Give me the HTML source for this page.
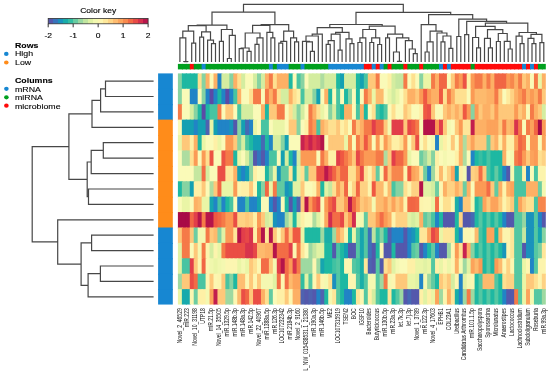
<!DOCTYPE html><html><head><meta charset="utf-8"><title>Heatmap</title><style>html,body{margin:0;padding:0;background:#fff;}body{width:550px;height:372px;overflow:hidden;}svg{display:block;}text{font-family:"Liberation Sans",Arial,sans-serif;}</style></head><body>
<svg width="550" height="372" viewBox="0 0 550 372">
<rect width="550" height="372" fill="#fff"/>
<g>
<rect x="177.90" y="73.40" width="4.96" height="16.41" fill="#86D3A2"/>
<rect x="181.86" y="73.40" width="4.96" height="16.41" fill="#1EB8A2"/>
<rect x="185.81" y="73.40" width="4.96" height="16.41" fill="#1EB8A2"/>
<rect x="189.77" y="73.40" width="4.96" height="16.41" fill="#1EB8A2"/>
<rect x="193.72" y="73.40" width="4.96" height="16.41" fill="#1EB8A2"/>
<rect x="197.68" y="73.40" width="4.96" height="16.41" fill="#FEE090"/>
<rect x="201.64" y="73.40" width="4.96" height="16.41" fill="#86D3A2"/>
<rect x="205.59" y="73.40" width="4.96" height="16.41" fill="#FDB065"/>
<rect x="209.55" y="73.40" width="4.96" height="16.41" fill="#FAFAB8"/>
<rect x="213.50" y="73.40" width="4.96" height="16.41" fill="#FDB065"/>
<rect x="217.46" y="73.40" width="4.96" height="16.41" fill="#2184C6"/>
<rect x="221.42" y="73.40" width="4.96" height="16.41" fill="#D4EDA0"/>
<rect x="225.37" y="73.40" width="4.96" height="16.41" fill="#D4EDA0"/>
<rect x="229.33" y="73.40" width="4.96" height="16.41" fill="#86D3A2"/>
<rect x="233.28" y="73.40" width="4.96" height="16.41" fill="#FDB065"/>
<rect x="237.24" y="73.40" width="4.96" height="16.41" fill="#FEE090"/>
<rect x="241.20" y="73.40" width="4.96" height="16.41" fill="#D4EDA0"/>
<rect x="245.15" y="73.40" width="4.96" height="16.41" fill="#FAFAB8"/>
<rect x="249.11" y="73.40" width="4.96" height="16.41" fill="#FAFAB8"/>
<rect x="253.06" y="73.40" width="4.96" height="16.41" fill="#D4EDA0"/>
<rect x="257.02" y="73.40" width="4.96" height="16.41" fill="#86D3A2"/>
<rect x="260.98" y="73.40" width="4.96" height="16.41" fill="#D4EDA0"/>
<rect x="264.93" y="73.40" width="4.96" height="16.41" fill="#FDB065"/>
<rect x="268.89" y="73.40" width="4.96" height="16.41" fill="#F57A48"/>
<rect x="272.84" y="73.40" width="4.96" height="16.41" fill="#FEE090"/>
<rect x="276.80" y="73.40" width="4.96" height="16.41" fill="#FDB065"/>
<rect x="280.76" y="73.40" width="4.96" height="16.41" fill="#FDB065"/>
<rect x="284.71" y="73.40" width="4.96" height="16.41" fill="#FDB065"/>
<rect x="288.67" y="73.40" width="4.96" height="16.41" fill="#1EB8A2"/>
<rect x="292.62" y="73.40" width="4.96" height="16.41" fill="#FAFAB8"/>
<rect x="296.58" y="73.40" width="4.96" height="16.41" fill="#48C4A2"/>
<rect x="300.54" y="73.40" width="4.96" height="16.41" fill="#86D3A2"/>
<rect x="304.49" y="73.40" width="4.96" height="16.41" fill="#FAFAB8"/>
<rect x="308.45" y="73.40" width="4.96" height="16.41" fill="#D4EDA0"/>
<rect x="312.40" y="73.40" width="4.96" height="16.41" fill="#D4EDA0"/>
<rect x="316.36" y="73.40" width="4.96" height="16.41" fill="#D4EDA0"/>
<rect x="320.32" y="73.40" width="4.96" height="16.41" fill="#AEDDA0"/>
<rect x="324.27" y="73.40" width="4.96" height="16.41" fill="#D4EDA0"/>
<rect x="328.23" y="73.40" width="4.96" height="16.41" fill="#D4EDA0"/>
<rect x="332.18" y="73.40" width="4.96" height="16.41" fill="#D4EDA0"/>
<rect x="336.14" y="73.40" width="4.96" height="16.41" fill="#1EB8A2"/>
<rect x="340.10" y="73.40" width="4.96" height="16.41" fill="#14A0B2"/>
<rect x="344.05" y="73.40" width="4.96" height="16.41" fill="#D4EDA0"/>
<rect x="348.01" y="73.40" width="4.96" height="16.41" fill="#D4EDA0"/>
<rect x="351.96" y="73.40" width="4.96" height="16.41" fill="#D4EDA0"/>
<rect x="355.92" y="73.40" width="4.96" height="16.41" fill="#1EB8A2"/>
<rect x="359.88" y="73.40" width="4.96" height="16.41" fill="#14A0B2"/>
<rect x="363.83" y="73.40" width="4.96" height="16.41" fill="#48C4A2"/>
<rect x="367.79" y="73.40" width="4.96" height="16.41" fill="#FEC87A"/>
<rect x="371.74" y="73.40" width="4.96" height="16.41" fill="#FEC87A"/>
<rect x="375.70" y="73.40" width="4.96" height="16.41" fill="#F57A48"/>
<rect x="379.66" y="73.40" width="4.96" height="16.41" fill="#FAFAB8"/>
<rect x="383.61" y="73.40" width="4.96" height="16.41" fill="#FAFAB8"/>
<rect x="387.57" y="73.40" width="4.96" height="16.41" fill="#FEF0A6"/>
<rect x="391.52" y="73.40" width="4.96" height="16.41" fill="#D4EDA0"/>
<rect x="395.48" y="73.40" width="4.96" height="16.41" fill="#C5E7A0"/>
<rect x="399.44" y="73.40" width="4.96" height="16.41" fill="#C5E7A0"/>
<rect x="403.39" y="73.40" width="4.96" height="16.41" fill="#F57A48"/>
<rect x="407.35" y="73.40" width="4.96" height="16.41" fill="#FAFAB8"/>
<rect x="411.30" y="73.40" width="4.96" height="16.41" fill="#FEE090"/>
<rect x="415.26" y="73.40" width="4.96" height="16.41" fill="#FAFAB8"/>
<rect x="419.22" y="73.40" width="4.96" height="16.41" fill="#86D3A2"/>
<rect x="423.17" y="73.40" width="4.96" height="16.41" fill="#EAF5A6"/>
<rect x="427.13" y="73.40" width="4.96" height="16.41" fill="#EAF5A6"/>
<rect x="431.08" y="73.40" width="4.96" height="16.41" fill="#F57A48"/>
<rect x="435.04" y="73.40" width="4.96" height="16.41" fill="#FDB065"/>
<rect x="439.00" y="73.40" width="4.96" height="16.41" fill="#F16644"/>
<rect x="442.95" y="73.40" width="4.96" height="16.41" fill="#F16644"/>
<rect x="446.91" y="73.40" width="4.96" height="16.41" fill="#FAFAB8"/>
<rect x="450.86" y="73.40" width="4.96" height="16.41" fill="#FEC87A"/>
<rect x="454.82" y="73.40" width="4.96" height="16.41" fill="#F57A48"/>
<rect x="458.78" y="73.40" width="4.96" height="16.41" fill="#FB9A55"/>
<rect x="462.73" y="73.40" width="4.96" height="16.41" fill="#EC5344"/>
<rect x="466.69" y="73.40" width="4.96" height="16.41" fill="#FEF0A6"/>
<rect x="470.64" y="73.40" width="4.96" height="16.41" fill="#FB9A55"/>
<rect x="474.60" y="73.40" width="4.96" height="16.41" fill="#F57A48"/>
<rect x="478.56" y="73.40" width="4.96" height="16.41" fill="#F57A48"/>
<rect x="482.51" y="73.40" width="4.96" height="16.41" fill="#FDB065"/>
<rect x="486.47" y="73.40" width="4.96" height="16.41" fill="#F57A48"/>
<rect x="490.42" y="73.40" width="4.96" height="16.41" fill="#FDB065"/>
<rect x="494.38" y="73.40" width="4.96" height="16.41" fill="#F16644"/>
<rect x="498.34" y="73.40" width="4.96" height="16.41" fill="#F16644"/>
<rect x="502.29" y="73.40" width="4.96" height="16.41" fill="#F16644"/>
<rect x="506.25" y="73.40" width="4.96" height="16.41" fill="#FB9A55"/>
<rect x="510.20" y="73.40" width="4.96" height="16.41" fill="#F7874D"/>
<rect x="514.16" y="73.40" width="4.96" height="16.41" fill="#FDB065"/>
<rect x="518.12" y="73.40" width="4.96" height="16.41" fill="#F57A48"/>
<rect x="522.07" y="73.40" width="4.96" height="16.41" fill="#FEC87A"/>
<rect x="526.03" y="73.40" width="4.96" height="16.41" fill="#FDB065"/>
<rect x="529.98" y="73.40" width="4.96" height="16.41" fill="#FAFAB8"/>
<rect x="533.94" y="73.40" width="4.96" height="16.41" fill="#F57A48"/>
<rect x="537.90" y="73.40" width="4.96" height="16.41" fill="#EAF5A6"/>
<rect x="541.85" y="73.40" width="3.96" height="16.41" fill="#FDB065"/>
<rect x="177.90" y="88.81" width="4.96" height="16.41" fill="#86D3A2"/>
<rect x="181.86" y="88.81" width="4.96" height="16.41" fill="#FAFAB8"/>
<rect x="185.81" y="88.81" width="4.96" height="16.41" fill="#FAFAB8"/>
<rect x="189.77" y="88.81" width="4.96" height="16.41" fill="#2184C6"/>
<rect x="193.72" y="88.81" width="4.96" height="16.41" fill="#2184C6"/>
<rect x="197.68" y="88.81" width="4.96" height="16.41" fill="#FAFAB8"/>
<rect x="201.64" y="88.81" width="4.96" height="16.41" fill="#86D3A2"/>
<rect x="205.59" y="88.81" width="4.96" height="16.41" fill="#2184C6"/>
<rect x="209.55" y="88.81" width="4.96" height="16.41" fill="#5B4AA6"/>
<rect x="213.50" y="88.81" width="4.96" height="16.41" fill="#2184C6"/>
<rect x="217.46" y="88.81" width="4.96" height="16.41" fill="#1EB8A2"/>
<rect x="221.42" y="88.81" width="4.96" height="16.41" fill="#2184C6"/>
<rect x="225.37" y="88.81" width="4.96" height="16.41" fill="#5B4AA6"/>
<rect x="229.33" y="88.81" width="4.96" height="16.41" fill="#2184C6"/>
<rect x="233.28" y="88.81" width="4.96" height="16.41" fill="#48C4A2"/>
<rect x="237.24" y="88.81" width="4.96" height="16.41" fill="#FDB065"/>
<rect x="241.20" y="88.81" width="4.96" height="16.41" fill="#FAFAB8"/>
<rect x="245.15" y="88.81" width="4.96" height="16.41" fill="#FAFAB8"/>
<rect x="249.11" y="88.81" width="4.96" height="16.41" fill="#FEE090"/>
<rect x="253.06" y="88.81" width="4.96" height="16.41" fill="#F57A48"/>
<rect x="257.02" y="88.81" width="4.96" height="16.41" fill="#F57A48"/>
<rect x="260.98" y="88.81" width="4.96" height="16.41" fill="#FAFAB8"/>
<rect x="264.93" y="88.81" width="4.96" height="16.41" fill="#F57A48"/>
<rect x="268.89" y="88.81" width="4.96" height="16.41" fill="#FDB065"/>
<rect x="272.84" y="88.81" width="4.96" height="16.41" fill="#F57A48"/>
<rect x="276.80" y="88.81" width="4.96" height="16.41" fill="#FEE090"/>
<rect x="280.76" y="88.81" width="4.96" height="16.41" fill="#D4EDA0"/>
<rect x="284.71" y="88.81" width="4.96" height="16.41" fill="#D4EDA0"/>
<rect x="288.67" y="88.81" width="4.96" height="16.41" fill="#FDB065"/>
<rect x="292.62" y="88.81" width="4.96" height="16.41" fill="#FEE090"/>
<rect x="296.58" y="88.81" width="4.96" height="16.41" fill="#FEF0A6"/>
<rect x="300.54" y="88.81" width="4.96" height="16.41" fill="#48C4A2"/>
<rect x="304.49" y="88.81" width="4.96" height="16.41" fill="#D4EDA0"/>
<rect x="308.45" y="88.81" width="4.96" height="16.41" fill="#D4EDA0"/>
<rect x="312.40" y="88.81" width="4.96" height="16.41" fill="#86D3A2"/>
<rect x="316.36" y="88.81" width="4.96" height="16.41" fill="#14A0B2"/>
<rect x="320.32" y="88.81" width="4.96" height="16.41" fill="#FAFAB8"/>
<rect x="324.27" y="88.81" width="4.96" height="16.41" fill="#FDB065"/>
<rect x="328.23" y="88.81" width="4.96" height="16.41" fill="#1EB8A2"/>
<rect x="332.18" y="88.81" width="4.96" height="16.41" fill="#FAFAB8"/>
<rect x="336.14" y="88.81" width="4.96" height="16.41" fill="#48C4A2"/>
<rect x="340.10" y="88.81" width="4.96" height="16.41" fill="#FAFAB8"/>
<rect x="344.05" y="88.81" width="4.96" height="16.41" fill="#1EB8A2"/>
<rect x="348.01" y="88.81" width="4.96" height="16.41" fill="#86D3A2"/>
<rect x="351.96" y="88.81" width="4.96" height="16.41" fill="#FAFAB8"/>
<rect x="355.92" y="88.81" width="4.96" height="16.41" fill="#1EB8A2"/>
<rect x="359.88" y="88.81" width="4.96" height="16.41" fill="#FAFAB8"/>
<rect x="363.83" y="88.81" width="4.96" height="16.41" fill="#F57A48"/>
<rect x="367.79" y="88.81" width="4.96" height="16.41" fill="#FDB065"/>
<rect x="371.74" y="88.81" width="4.96" height="16.41" fill="#EAF5A6"/>
<rect x="375.70" y="88.81" width="4.96" height="16.41" fill="#FDBA6D"/>
<rect x="379.66" y="88.81" width="4.96" height="16.41" fill="#FDBA6D"/>
<rect x="383.61" y="88.81" width="4.96" height="16.41" fill="#FAFAB8"/>
<rect x="387.57" y="88.81" width="4.96" height="16.41" fill="#EAF5A6"/>
<rect x="391.52" y="88.81" width="4.96" height="16.41" fill="#D4EDA0"/>
<rect x="395.48" y="88.81" width="4.96" height="16.41" fill="#EAF5A6"/>
<rect x="399.44" y="88.81" width="4.96" height="16.41" fill="#FAFAB8"/>
<rect x="403.39" y="88.81" width="4.96" height="16.41" fill="#FEE090"/>
<rect x="407.35" y="88.81" width="4.96" height="16.41" fill="#FDB065"/>
<rect x="411.30" y="88.81" width="4.96" height="16.41" fill="#FDB065"/>
<rect x="415.26" y="88.81" width="4.96" height="16.41" fill="#FEC87A"/>
<rect x="419.22" y="88.81" width="4.96" height="16.41" fill="#FB9A55"/>
<rect x="423.17" y="88.81" width="4.96" height="16.41" fill="#EF5842"/>
<rect x="427.13" y="88.81" width="4.96" height="16.41" fill="#FB9A55"/>
<rect x="431.08" y="88.81" width="4.96" height="16.41" fill="#FDB065"/>
<rect x="435.04" y="88.81" width="4.96" height="16.41" fill="#FDB065"/>
<rect x="439.00" y="88.81" width="4.96" height="16.41" fill="#EF5842"/>
<rect x="442.95" y="88.81" width="4.96" height="16.41" fill="#FEE090"/>
<rect x="446.91" y="88.81" width="4.96" height="16.41" fill="#F57A48"/>
<rect x="450.86" y="88.81" width="4.96" height="16.41" fill="#FDB065"/>
<rect x="454.82" y="88.81" width="4.96" height="16.41" fill="#FEE090"/>
<rect x="458.78" y="88.81" width="4.96" height="16.41" fill="#FEE090"/>
<rect x="462.73" y="88.81" width="4.96" height="16.41" fill="#FEE090"/>
<rect x="466.69" y="88.81" width="4.96" height="16.41" fill="#FAFAB8"/>
<rect x="470.64" y="88.81" width="4.96" height="16.41" fill="#FB9A55"/>
<rect x="474.60" y="88.81" width="4.96" height="16.41" fill="#FDBA6D"/>
<rect x="478.56" y="88.81" width="4.96" height="16.41" fill="#FDBA6D"/>
<rect x="482.51" y="88.81" width="4.96" height="16.41" fill="#FDBA6D"/>
<rect x="486.47" y="88.81" width="4.96" height="16.41" fill="#FDB065"/>
<rect x="490.42" y="88.81" width="4.96" height="16.41" fill="#FDB065"/>
<rect x="494.38" y="88.81" width="4.96" height="16.41" fill="#F57A48"/>
<rect x="498.34" y="88.81" width="4.96" height="16.41" fill="#FEC87A"/>
<rect x="502.29" y="88.81" width="4.96" height="16.41" fill="#FAFAB8"/>
<rect x="506.25" y="88.81" width="4.96" height="16.41" fill="#FEEA9D"/>
<rect x="510.20" y="88.81" width="4.96" height="16.41" fill="#FED283"/>
<rect x="514.16" y="88.81" width="4.96" height="16.41" fill="#FDB065"/>
<rect x="518.12" y="88.81" width="4.96" height="16.41" fill="#FB9A55"/>
<rect x="522.07" y="88.81" width="4.96" height="16.41" fill="#F57A48"/>
<rect x="526.03" y="88.81" width="4.96" height="16.41" fill="#FDB065"/>
<rect x="529.98" y="88.81" width="4.96" height="16.41" fill="#FB9A55"/>
<rect x="533.94" y="88.81" width="4.96" height="16.41" fill="#FDB065"/>
<rect x="537.90" y="88.81" width="4.96" height="16.41" fill="#F57A48"/>
<rect x="541.85" y="88.81" width="3.96" height="16.41" fill="#FEC87A"/>
<rect x="177.90" y="104.22" width="4.96" height="16.41" fill="#F57A48"/>
<rect x="181.86" y="104.22" width="4.96" height="16.41" fill="#FAFAB8"/>
<rect x="185.81" y="104.22" width="4.96" height="16.41" fill="#FAFAB8"/>
<rect x="189.77" y="104.22" width="4.96" height="16.41" fill="#D4EDA0"/>
<rect x="193.72" y="104.22" width="4.96" height="16.41" fill="#86D3A2"/>
<rect x="197.68" y="104.22" width="4.96" height="16.41" fill="#1EB8A2"/>
<rect x="201.64" y="104.22" width="4.96" height="16.41" fill="#5B4AA6"/>
<rect x="205.59" y="104.22" width="4.96" height="16.41" fill="#1EB8A2"/>
<rect x="209.55" y="104.22" width="4.96" height="16.41" fill="#48C4A2"/>
<rect x="213.50" y="104.22" width="4.96" height="16.41" fill="#48C4A2"/>
<rect x="217.46" y="104.22" width="4.96" height="16.41" fill="#F57A48"/>
<rect x="221.42" y="104.22" width="4.96" height="16.41" fill="#FAFAB8"/>
<rect x="225.37" y="104.22" width="4.96" height="16.41" fill="#FEC87A"/>
<rect x="229.33" y="104.22" width="4.96" height="16.41" fill="#FEC87A"/>
<rect x="233.28" y="104.22" width="4.96" height="16.41" fill="#FAFAB8"/>
<rect x="237.24" y="104.22" width="4.96" height="16.41" fill="#48C4A2"/>
<rect x="241.20" y="104.22" width="4.96" height="16.41" fill="#D4EDA0"/>
<rect x="245.15" y="104.22" width="4.96" height="16.41" fill="#D4EDA0"/>
<rect x="249.11" y="104.22" width="4.96" height="16.41" fill="#D4EDA0"/>
<rect x="253.06" y="104.22" width="4.96" height="16.41" fill="#FAFAB8"/>
<rect x="257.02" y="104.22" width="4.96" height="16.41" fill="#FAFAB8"/>
<rect x="260.98" y="104.22" width="4.96" height="16.41" fill="#FDB065"/>
<rect x="264.93" y="104.22" width="4.96" height="16.41" fill="#1EB8A2"/>
<rect x="268.89" y="104.22" width="4.96" height="16.41" fill="#FEC87A"/>
<rect x="272.84" y="104.22" width="4.96" height="16.41" fill="#FEC87A"/>
<rect x="276.80" y="104.22" width="4.96" height="16.41" fill="#F57A48"/>
<rect x="280.76" y="104.22" width="4.96" height="16.41" fill="#F57A48"/>
<rect x="284.71" y="104.22" width="4.96" height="16.41" fill="#FAFAB8"/>
<rect x="288.67" y="104.22" width="4.96" height="16.41" fill="#FEE090"/>
<rect x="292.62" y="104.22" width="4.96" height="16.41" fill="#D4EDA0"/>
<rect x="296.58" y="104.22" width="4.96" height="16.41" fill="#86D3A2"/>
<rect x="300.54" y="104.22" width="4.96" height="16.41" fill="#D4EDA0"/>
<rect x="304.49" y="104.22" width="4.96" height="16.41" fill="#FAFAB8"/>
<rect x="308.45" y="104.22" width="4.96" height="16.41" fill="#F57A48"/>
<rect x="312.40" y="104.22" width="4.96" height="16.41" fill="#FDB065"/>
<rect x="316.36" y="104.22" width="4.96" height="16.41" fill="#FEE090"/>
<rect x="320.32" y="104.22" width="4.96" height="16.41" fill="#EAF5A6"/>
<rect x="324.27" y="104.22" width="4.96" height="16.41" fill="#FAFAB8"/>
<rect x="328.23" y="104.22" width="4.96" height="16.41" fill="#86D3A2"/>
<rect x="332.18" y="104.22" width="4.96" height="16.41" fill="#D4EDA0"/>
<rect x="336.14" y="104.22" width="4.96" height="16.41" fill="#48C4A2"/>
<rect x="340.10" y="104.22" width="4.96" height="16.41" fill="#1EB8A2"/>
<rect x="344.05" y="104.22" width="4.96" height="16.41" fill="#FDB065"/>
<rect x="348.01" y="104.22" width="4.96" height="16.41" fill="#FDB065"/>
<rect x="351.96" y="104.22" width="4.96" height="16.41" fill="#FAFAB8"/>
<rect x="355.92" y="104.22" width="4.96" height="16.41" fill="#48C4A2"/>
<rect x="359.88" y="104.22" width="4.96" height="16.41" fill="#FDB065"/>
<rect x="363.83" y="104.22" width="4.96" height="16.41" fill="#1EB8A2"/>
<rect x="367.79" y="104.22" width="4.96" height="16.41" fill="#FAFAB8"/>
<rect x="371.74" y="104.22" width="4.96" height="16.41" fill="#FEE090"/>
<rect x="375.70" y="104.22" width="4.96" height="16.41" fill="#40C2A2"/>
<rect x="379.66" y="104.22" width="4.96" height="16.41" fill="#1EB8A2"/>
<rect x="383.61" y="104.22" width="4.96" height="16.41" fill="#54C7A2"/>
<rect x="387.57" y="104.22" width="4.96" height="16.41" fill="#FAFAB8"/>
<rect x="391.52" y="104.22" width="4.96" height="16.41" fill="#FEE090"/>
<rect x="395.48" y="104.22" width="4.96" height="16.41" fill="#FAFAB8"/>
<rect x="399.44" y="104.22" width="4.96" height="16.41" fill="#FAFAB8"/>
<rect x="403.39" y="104.22" width="4.96" height="16.41" fill="#FEC87A"/>
<rect x="407.35" y="104.22" width="4.96" height="16.41" fill="#FEE090"/>
<rect x="411.30" y="104.22" width="4.96" height="16.41" fill="#FAFAB8"/>
<rect x="415.26" y="104.22" width="4.96" height="16.41" fill="#FAFAB8"/>
<rect x="419.22" y="104.22" width="4.96" height="16.41" fill="#FEF0A6"/>
<rect x="423.17" y="104.22" width="4.96" height="16.41" fill="#EF5842"/>
<rect x="427.13" y="104.22" width="4.96" height="16.41" fill="#EA4E45"/>
<rect x="431.08" y="104.22" width="4.96" height="16.41" fill="#FEC87A"/>
<rect x="435.04" y="104.22" width="4.96" height="16.41" fill="#FAFAB8"/>
<rect x="439.00" y="104.22" width="4.96" height="16.41" fill="#FAFAB8"/>
<rect x="442.95" y="104.22" width="4.96" height="16.41" fill="#FEC87A"/>
<rect x="446.91" y="104.22" width="4.96" height="16.41" fill="#FDB065"/>
<rect x="450.86" y="104.22" width="4.96" height="16.41" fill="#FEC87A"/>
<rect x="454.82" y="104.22" width="4.96" height="16.41" fill="#FDB065"/>
<rect x="458.78" y="104.22" width="4.96" height="16.41" fill="#FEC87A"/>
<rect x="462.73" y="104.22" width="4.96" height="16.41" fill="#EF5842"/>
<rect x="466.69" y="104.22" width="4.96" height="16.41" fill="#FB9A55"/>
<rect x="470.64" y="104.22" width="4.96" height="16.41" fill="#86D3A2"/>
<rect x="474.60" y="104.22" width="4.96" height="16.41" fill="#FB9A55"/>
<rect x="478.56" y="104.22" width="4.96" height="16.41" fill="#FEC87A"/>
<rect x="482.51" y="104.22" width="4.96" height="16.41" fill="#FDB065"/>
<rect x="486.47" y="104.22" width="4.96" height="16.41" fill="#FDB065"/>
<rect x="490.42" y="104.22" width="4.96" height="16.41" fill="#FEC87A"/>
<rect x="494.38" y="104.22" width="4.96" height="16.41" fill="#FB9A55"/>
<rect x="498.34" y="104.22" width="4.96" height="16.41" fill="#FEC87A"/>
<rect x="502.29" y="104.22" width="4.96" height="16.41" fill="#FEC87A"/>
<rect x="506.25" y="104.22" width="4.96" height="16.41" fill="#FEC87A"/>
<rect x="510.20" y="104.22" width="4.96" height="16.41" fill="#FEC87A"/>
<rect x="514.16" y="104.22" width="4.96" height="16.41" fill="#FB9A55"/>
<rect x="518.12" y="104.22" width="4.96" height="16.41" fill="#FEC87A"/>
<rect x="522.07" y="104.22" width="4.96" height="16.41" fill="#FDB065"/>
<rect x="526.03" y="104.22" width="4.96" height="16.41" fill="#FAFAB8"/>
<rect x="529.98" y="104.22" width="4.96" height="16.41" fill="#F57A48"/>
<rect x="533.94" y="104.22" width="4.96" height="16.41" fill="#FDB065"/>
<rect x="537.90" y="104.22" width="4.96" height="16.41" fill="#FEC87A"/>
<rect x="541.85" y="104.22" width="3.96" height="16.41" fill="#D4EDA0"/>
<rect x="177.90" y="119.63" width="4.96" height="16.41" fill="#FAFAB8"/>
<rect x="181.86" y="119.63" width="4.96" height="16.41" fill="#14A0B2"/>
<rect x="185.81" y="119.63" width="4.96" height="16.41" fill="#14A0B2"/>
<rect x="189.77" y="119.63" width="4.96" height="16.41" fill="#14A0B2"/>
<rect x="193.72" y="119.63" width="4.96" height="16.41" fill="#2184C6"/>
<rect x="197.68" y="119.63" width="4.96" height="16.41" fill="#14A0B2"/>
<rect x="201.64" y="119.63" width="4.96" height="16.41" fill="#14A0B2"/>
<rect x="205.59" y="119.63" width="4.96" height="16.41" fill="#4F62B0"/>
<rect x="209.55" y="119.63" width="4.96" height="16.41" fill="#EAF5A6"/>
<rect x="213.50" y="119.63" width="4.96" height="16.41" fill="#14A0B2"/>
<rect x="217.46" y="119.63" width="4.96" height="16.41" fill="#2184C6"/>
<rect x="221.42" y="119.63" width="4.96" height="16.41" fill="#2184C6"/>
<rect x="225.37" y="119.63" width="4.96" height="16.41" fill="#2184C6"/>
<rect x="229.33" y="119.63" width="4.96" height="16.41" fill="#1995BA"/>
<rect x="233.28" y="119.63" width="4.96" height="16.41" fill="#5458AC"/>
<rect x="237.24" y="119.63" width="4.96" height="16.41" fill="#86D3A2"/>
<rect x="241.20" y="119.63" width="4.96" height="16.41" fill="#14A0B2"/>
<rect x="245.15" y="119.63" width="4.96" height="16.41" fill="#4669B4"/>
<rect x="249.11" y="119.63" width="4.96" height="16.41" fill="#2184C6"/>
<rect x="253.06" y="119.63" width="4.96" height="16.41" fill="#EAF5A6"/>
<rect x="257.02" y="119.63" width="4.96" height="16.41" fill="#FAFAB8"/>
<rect x="260.98" y="119.63" width="4.96" height="16.41" fill="#48C4A2"/>
<rect x="264.93" y="119.63" width="4.96" height="16.41" fill="#48C4A2"/>
<rect x="268.89" y="119.63" width="4.96" height="16.41" fill="#FAFAB8"/>
<rect x="272.84" y="119.63" width="4.96" height="16.41" fill="#EAF5A6"/>
<rect x="276.80" y="119.63" width="4.96" height="16.41" fill="#EAF5A6"/>
<rect x="280.76" y="119.63" width="4.96" height="16.41" fill="#EAF5A6"/>
<rect x="284.71" y="119.63" width="4.96" height="16.41" fill="#FAFAB8"/>
<rect x="288.67" y="119.63" width="4.96" height="16.41" fill="#FEC87A"/>
<rect x="292.62" y="119.63" width="4.96" height="16.41" fill="#FEC87A"/>
<rect x="296.58" y="119.63" width="4.96" height="16.41" fill="#86D3A2"/>
<rect x="300.54" y="119.63" width="4.96" height="16.41" fill="#FAFAB8"/>
<rect x="304.49" y="119.63" width="4.96" height="16.41" fill="#FEF0A6"/>
<rect x="308.45" y="119.63" width="4.96" height="16.41" fill="#F57A48"/>
<rect x="312.40" y="119.63" width="4.96" height="16.41" fill="#FB9A55"/>
<rect x="316.36" y="119.63" width="4.96" height="16.41" fill="#48C4A2"/>
<rect x="320.32" y="119.63" width="4.96" height="16.41" fill="#FDB065"/>
<rect x="324.27" y="119.63" width="4.96" height="16.41" fill="#FEC87A"/>
<rect x="328.23" y="119.63" width="4.96" height="16.41" fill="#FEE090"/>
<rect x="332.18" y="119.63" width="4.96" height="16.41" fill="#FEE090"/>
<rect x="336.14" y="119.63" width="4.96" height="16.41" fill="#FEC87A"/>
<rect x="340.10" y="119.63" width="4.96" height="16.41" fill="#FEF0A6"/>
<rect x="344.05" y="119.63" width="4.96" height="16.41" fill="#FEE090"/>
<rect x="348.01" y="119.63" width="4.96" height="16.41" fill="#FAFAB8"/>
<rect x="351.96" y="119.63" width="4.96" height="16.41" fill="#F57A48"/>
<rect x="355.92" y="119.63" width="4.96" height="16.41" fill="#FEC87A"/>
<rect x="359.88" y="119.63" width="4.96" height="16.41" fill="#FDB065"/>
<rect x="363.83" y="119.63" width="4.96" height="16.41" fill="#F57A48"/>
<rect x="367.79" y="119.63" width="4.96" height="16.41" fill="#F57A48"/>
<rect x="371.74" y="119.63" width="4.96" height="16.41" fill="#E23E4A"/>
<rect x="375.70" y="119.63" width="4.96" height="16.41" fill="#F16644"/>
<rect x="379.66" y="119.63" width="4.96" height="16.41" fill="#F16644"/>
<rect x="383.61" y="119.63" width="4.96" height="16.41" fill="#FEC87A"/>
<rect x="387.57" y="119.63" width="4.96" height="16.41" fill="#F4F8B1"/>
<rect x="391.52" y="119.63" width="4.96" height="16.41" fill="#E23E4A"/>
<rect x="395.48" y="119.63" width="4.96" height="16.41" fill="#E23E4A"/>
<rect x="399.44" y="119.63" width="4.96" height="16.41" fill="#E23E4A"/>
<rect x="403.39" y="119.63" width="4.96" height="16.41" fill="#FEC87A"/>
<rect x="407.35" y="119.63" width="4.96" height="16.41" fill="#E74847"/>
<rect x="411.30" y="119.63" width="4.96" height="16.41" fill="#EF5842"/>
<rect x="415.26" y="119.63" width="4.96" height="16.41" fill="#F57A48"/>
<rect x="419.22" y="119.63" width="4.96" height="16.41" fill="#FAFAB8"/>
<rect x="423.17" y="119.63" width="4.96" height="16.41" fill="#B5144A"/>
<rect x="427.13" y="119.63" width="4.96" height="16.41" fill="#B5144A"/>
<rect x="431.08" y="119.63" width="4.96" height="16.41" fill="#B5144A"/>
<rect x="435.04" y="119.63" width="4.96" height="16.41" fill="#FB9A55"/>
<rect x="439.00" y="119.63" width="4.96" height="16.41" fill="#E23E4A"/>
<rect x="442.95" y="119.63" width="4.96" height="16.41" fill="#FEC87A"/>
<rect x="446.91" y="119.63" width="4.96" height="16.41" fill="#F4F8B1"/>
<rect x="450.86" y="119.63" width="4.96" height="16.41" fill="#FAFAB8"/>
<rect x="454.82" y="119.63" width="4.96" height="16.41" fill="#FEC87A"/>
<rect x="458.78" y="119.63" width="4.96" height="16.41" fill="#FB9A55"/>
<rect x="462.73" y="119.63" width="4.96" height="16.41" fill="#FEE699"/>
<rect x="466.69" y="119.63" width="4.96" height="16.41" fill="#FEE699"/>
<rect x="470.64" y="119.63" width="4.96" height="16.41" fill="#C21D4E"/>
<rect x="474.60" y="119.63" width="4.96" height="16.41" fill="#FDB065"/>
<rect x="478.56" y="119.63" width="4.96" height="16.41" fill="#FDB065"/>
<rect x="482.51" y="119.63" width="4.96" height="16.41" fill="#FDB065"/>
<rect x="486.47" y="119.63" width="4.96" height="16.41" fill="#FCA35B"/>
<rect x="490.42" y="119.63" width="4.96" height="16.41" fill="#FCA35B"/>
<rect x="494.38" y="119.63" width="4.96" height="16.41" fill="#FCA35B"/>
<rect x="498.34" y="119.63" width="4.96" height="16.41" fill="#FEC87A"/>
<rect x="502.29" y="119.63" width="4.96" height="16.41" fill="#F57A48"/>
<rect x="506.25" y="119.63" width="4.96" height="16.41" fill="#FDBA6D"/>
<rect x="510.20" y="119.63" width="4.96" height="16.41" fill="#FDB065"/>
<rect x="514.16" y="119.63" width="4.96" height="16.41" fill="#D8334C"/>
<rect x="518.12" y="119.63" width="4.96" height="16.41" fill="#F57A48"/>
<rect x="522.07" y="119.63" width="4.96" height="16.41" fill="#FAFAB8"/>
<rect x="526.03" y="119.63" width="4.96" height="16.41" fill="#F57A48"/>
<rect x="529.98" y="119.63" width="4.96" height="16.41" fill="#FCA35B"/>
<rect x="533.94" y="119.63" width="4.96" height="16.41" fill="#F16644"/>
<rect x="537.90" y="119.63" width="4.96" height="16.41" fill="#A80A46"/>
<rect x="541.85" y="119.63" width="3.96" height="16.41" fill="#FB9A55"/>
<rect x="177.90" y="135.04" width="4.96" height="16.41" fill="#EAF5A6"/>
<rect x="181.86" y="135.04" width="4.96" height="16.41" fill="#FEC87A"/>
<rect x="185.81" y="135.04" width="4.96" height="16.41" fill="#FEC87A"/>
<rect x="189.77" y="135.04" width="4.96" height="16.41" fill="#FEF0A6"/>
<rect x="193.72" y="135.04" width="4.96" height="16.41" fill="#FDB065"/>
<rect x="197.68" y="135.04" width="4.96" height="16.41" fill="#1EB8A2"/>
<rect x="201.64" y="135.04" width="4.96" height="16.41" fill="#EAF5A6"/>
<rect x="205.59" y="135.04" width="4.96" height="16.41" fill="#FAFAB8"/>
<rect x="209.55" y="135.04" width="4.96" height="16.41" fill="#FAFAB8"/>
<rect x="213.50" y="135.04" width="4.96" height="16.41" fill="#FEF0A6"/>
<rect x="217.46" y="135.04" width="4.96" height="16.41" fill="#EAF5A6"/>
<rect x="221.42" y="135.04" width="4.96" height="16.41" fill="#FAFAB8"/>
<rect x="225.37" y="135.04" width="4.96" height="16.41" fill="#FB9A55"/>
<rect x="229.33" y="135.04" width="4.96" height="16.41" fill="#FB9A55"/>
<rect x="233.28" y="135.04" width="4.96" height="16.41" fill="#FEC87A"/>
<rect x="237.24" y="135.04" width="4.96" height="16.41" fill="#86D3A2"/>
<rect x="241.20" y="135.04" width="4.96" height="16.41" fill="#D4EDA0"/>
<rect x="245.15" y="135.04" width="4.96" height="16.41" fill="#48C4A2"/>
<rect x="249.11" y="135.04" width="4.96" height="16.41" fill="#1EB8A2"/>
<rect x="253.06" y="135.04" width="4.96" height="16.41" fill="#14A0B2"/>
<rect x="257.02" y="135.04" width="4.96" height="16.41" fill="#14A0B2"/>
<rect x="260.98" y="135.04" width="4.96" height="16.41" fill="#4669B4"/>
<rect x="264.93" y="135.04" width="4.96" height="16.41" fill="#1EB8A2"/>
<rect x="268.89" y="135.04" width="4.96" height="16.41" fill="#2184C6"/>
<rect x="272.84" y="135.04" width="4.96" height="16.41" fill="#D4EDA0"/>
<rect x="276.80" y="135.04" width="4.96" height="16.41" fill="#D4EDA0"/>
<rect x="280.76" y="135.04" width="4.96" height="16.41" fill="#86D3A2"/>
<rect x="284.71" y="135.04" width="4.96" height="16.41" fill="#14A0B2"/>
<rect x="288.67" y="135.04" width="4.96" height="16.41" fill="#FAFAB8"/>
<rect x="292.62" y="135.04" width="4.96" height="16.41" fill="#FAFAB8"/>
<rect x="296.58" y="135.04" width="4.96" height="16.41" fill="#FAFAB8"/>
<rect x="300.54" y="135.04" width="4.96" height="16.41" fill="#C82250"/>
<rect x="304.49" y="135.04" width="4.96" height="16.41" fill="#E23E4A"/>
<rect x="308.45" y="135.04" width="4.96" height="16.41" fill="#C82250"/>
<rect x="312.40" y="135.04" width="4.96" height="16.41" fill="#E23E4A"/>
<rect x="316.36" y="135.04" width="4.96" height="16.41" fill="#D22D4E"/>
<rect x="320.32" y="135.04" width="4.96" height="16.41" fill="#B5144A"/>
<rect x="324.27" y="135.04" width="4.96" height="16.41" fill="#FAFAB8"/>
<rect x="328.23" y="135.04" width="4.96" height="16.41" fill="#FEC87A"/>
<rect x="332.18" y="135.04" width="4.96" height="16.41" fill="#FEC87A"/>
<rect x="336.14" y="135.04" width="4.96" height="16.41" fill="#FEC87A"/>
<rect x="340.10" y="135.04" width="4.96" height="16.41" fill="#FEC87A"/>
<rect x="344.05" y="135.04" width="4.96" height="16.41" fill="#EAF5A6"/>
<rect x="348.01" y="135.04" width="4.96" height="16.41" fill="#FB9A55"/>
<rect x="351.96" y="135.04" width="4.96" height="16.41" fill="#FAFAB8"/>
<rect x="355.92" y="135.04" width="4.96" height="16.41" fill="#F57A48"/>
<rect x="359.88" y="135.04" width="4.96" height="16.41" fill="#FDB065"/>
<rect x="363.83" y="135.04" width="4.96" height="16.41" fill="#EF5842"/>
<rect x="367.79" y="135.04" width="4.96" height="16.41" fill="#FB9A55"/>
<rect x="371.74" y="135.04" width="4.96" height="16.41" fill="#FAFAB8"/>
<rect x="375.70" y="135.04" width="4.96" height="16.41" fill="#FB9A55"/>
<rect x="379.66" y="135.04" width="4.96" height="16.41" fill="#FEF0A6"/>
<rect x="383.61" y="135.04" width="4.96" height="16.41" fill="#FB9A55"/>
<rect x="387.57" y="135.04" width="4.96" height="16.41" fill="#FEC87A"/>
<rect x="391.52" y="135.04" width="4.96" height="16.41" fill="#FEF0A6"/>
<rect x="395.48" y="135.04" width="4.96" height="16.41" fill="#FEF0A6"/>
<rect x="399.44" y="135.04" width="4.96" height="16.41" fill="#FEE090"/>
<rect x="403.39" y="135.04" width="4.96" height="16.41" fill="#FB9A55"/>
<rect x="407.35" y="135.04" width="4.96" height="16.41" fill="#FAFAB8"/>
<rect x="411.30" y="135.04" width="4.96" height="16.41" fill="#FEC87A"/>
<rect x="415.26" y="135.04" width="4.96" height="16.41" fill="#EA4E45"/>
<rect x="419.22" y="135.04" width="4.96" height="16.41" fill="#FAFAB8"/>
<rect x="423.17" y="135.04" width="4.96" height="16.41" fill="#FEE090"/>
<rect x="427.13" y="135.04" width="4.96" height="16.41" fill="#FAFAB8"/>
<rect x="431.08" y="135.04" width="4.96" height="16.41" fill="#F4F8B1"/>
<rect x="435.04" y="135.04" width="4.96" height="16.41" fill="#2184C6"/>
<rect x="439.00" y="135.04" width="4.96" height="16.41" fill="#EAF5A6"/>
<rect x="442.95" y="135.04" width="4.96" height="16.41" fill="#FEF0A6"/>
<rect x="446.91" y="135.04" width="4.96" height="16.41" fill="#FAFAB8"/>
<rect x="450.86" y="135.04" width="4.96" height="16.41" fill="#FEC87A"/>
<rect x="454.82" y="135.04" width="4.96" height="16.41" fill="#FAFAB8"/>
<rect x="458.78" y="135.04" width="4.96" height="16.41" fill="#FDB065"/>
<rect x="462.73" y="135.04" width="4.96" height="16.41" fill="#AEDDA0"/>
<rect x="466.69" y="135.04" width="4.96" height="16.41" fill="#FEC87A"/>
<rect x="470.64" y="135.04" width="4.96" height="16.41" fill="#FCA35B"/>
<rect x="474.60" y="135.04" width="4.96" height="16.41" fill="#FEC87A"/>
<rect x="478.56" y="135.04" width="4.96" height="16.41" fill="#FEC87A"/>
<rect x="482.51" y="135.04" width="4.96" height="16.41" fill="#FEC87A"/>
<rect x="486.47" y="135.04" width="4.96" height="16.41" fill="#6DCDA2"/>
<rect x="490.42" y="135.04" width="4.96" height="16.41" fill="#FEC87A"/>
<rect x="494.38" y="135.04" width="4.96" height="16.41" fill="#FDB065"/>
<rect x="498.34" y="135.04" width="4.96" height="16.41" fill="#FEF0A6"/>
<rect x="502.29" y="135.04" width="4.96" height="16.41" fill="#FDB065"/>
<rect x="506.25" y="135.04" width="4.96" height="16.41" fill="#FEF0A6"/>
<rect x="510.20" y="135.04" width="4.96" height="16.41" fill="#FEF0A6"/>
<rect x="514.16" y="135.04" width="4.96" height="16.41" fill="#FCA35B"/>
<rect x="518.12" y="135.04" width="4.96" height="16.41" fill="#F16644"/>
<rect x="522.07" y="135.04" width="4.96" height="16.41" fill="#F57A48"/>
<rect x="526.03" y="135.04" width="4.96" height="16.41" fill="#FAFAB8"/>
<rect x="529.98" y="135.04" width="4.96" height="16.41" fill="#FB9A55"/>
<rect x="533.94" y="135.04" width="4.96" height="16.41" fill="#FB9A55"/>
<rect x="537.90" y="135.04" width="4.96" height="16.41" fill="#FAFAB8"/>
<rect x="541.85" y="135.04" width="3.96" height="16.41" fill="#FCA35B"/>
<rect x="177.90" y="150.45" width="4.96" height="16.41" fill="#FAFAB8"/>
<rect x="181.86" y="150.45" width="4.96" height="16.41" fill="#AEDDA0"/>
<rect x="185.81" y="150.45" width="4.96" height="16.41" fill="#AEDDA0"/>
<rect x="189.77" y="150.45" width="4.96" height="16.41" fill="#FEE090"/>
<rect x="193.72" y="150.45" width="4.96" height="16.41" fill="#FB9A55"/>
<rect x="197.68" y="150.45" width="4.96" height="16.41" fill="#FAFAB8"/>
<rect x="201.64" y="150.45" width="4.96" height="16.41" fill="#FB9A55"/>
<rect x="205.59" y="150.45" width="4.96" height="16.41" fill="#FEE090"/>
<rect x="209.55" y="150.45" width="4.96" height="16.41" fill="#EC5344"/>
<rect x="213.50" y="150.45" width="4.96" height="16.41" fill="#FAFAB8"/>
<rect x="217.46" y="150.45" width="4.96" height="16.41" fill="#FAFAB8"/>
<rect x="221.42" y="150.45" width="4.96" height="16.41" fill="#EC5344"/>
<rect x="225.37" y="150.45" width="4.96" height="16.41" fill="#F57A48"/>
<rect x="229.33" y="150.45" width="4.96" height="16.41" fill="#F57A48"/>
<rect x="233.28" y="150.45" width="4.96" height="16.41" fill="#1EB8A2"/>
<rect x="237.24" y="150.45" width="4.96" height="16.41" fill="#EAF5A6"/>
<rect x="241.20" y="150.45" width="4.96" height="16.41" fill="#FAFAB8"/>
<rect x="245.15" y="150.45" width="4.96" height="16.41" fill="#D4EDA0"/>
<rect x="249.11" y="150.45" width="4.96" height="16.41" fill="#86D3A2"/>
<rect x="253.06" y="150.45" width="4.96" height="16.41" fill="#5458AC"/>
<rect x="257.02" y="150.45" width="4.96" height="16.41" fill="#3376BD"/>
<rect x="260.98" y="150.45" width="4.96" height="16.41" fill="#5458AC"/>
<rect x="264.93" y="150.45" width="4.96" height="16.41" fill="#2184C6"/>
<rect x="268.89" y="150.45" width="4.96" height="16.41" fill="#48C4A2"/>
<rect x="272.84" y="150.45" width="4.96" height="16.41" fill="#48C4A2"/>
<rect x="276.80" y="150.45" width="4.96" height="16.41" fill="#FAFAB8"/>
<rect x="280.76" y="150.45" width="4.96" height="16.41" fill="#14A0B2"/>
<rect x="284.71" y="150.45" width="4.96" height="16.41" fill="#D4EDA0"/>
<rect x="288.67" y="150.45" width="4.96" height="16.41" fill="#1EB8A2"/>
<rect x="292.62" y="150.45" width="4.96" height="16.41" fill="#2184C6"/>
<rect x="296.58" y="150.45" width="4.96" height="16.41" fill="#D4EDA0"/>
<rect x="300.54" y="150.45" width="4.96" height="16.41" fill="#FB9A55"/>
<rect x="304.49" y="150.45" width="4.96" height="16.41" fill="#FB9A55"/>
<rect x="308.45" y="150.45" width="4.96" height="16.41" fill="#FB9A55"/>
<rect x="312.40" y="150.45" width="4.96" height="16.41" fill="#FB9A55"/>
<rect x="316.36" y="150.45" width="4.96" height="16.41" fill="#FAFAB8"/>
<rect x="320.32" y="150.45" width="4.96" height="16.41" fill="#F57A48"/>
<rect x="324.27" y="150.45" width="4.96" height="16.41" fill="#FDB065"/>
<rect x="328.23" y="150.45" width="4.96" height="16.41" fill="#FEF0A6"/>
<rect x="332.18" y="150.45" width="4.96" height="16.41" fill="#FEF0A6"/>
<rect x="336.14" y="150.45" width="4.96" height="16.41" fill="#E23E4A"/>
<rect x="340.10" y="150.45" width="4.96" height="16.41" fill="#EF5842"/>
<rect x="344.05" y="150.45" width="4.96" height="16.41" fill="#F57A48"/>
<rect x="348.01" y="150.45" width="4.96" height="16.41" fill="#FB9A55"/>
<rect x="351.96" y="150.45" width="4.96" height="16.41" fill="#FEC87A"/>
<rect x="355.92" y="150.45" width="4.96" height="16.41" fill="#E74847"/>
<rect x="359.88" y="150.45" width="4.96" height="16.41" fill="#F57A48"/>
<rect x="363.83" y="150.45" width="4.96" height="16.41" fill="#FB9A55"/>
<rect x="367.79" y="150.45" width="4.96" height="16.41" fill="#FB9A55"/>
<rect x="371.74" y="150.45" width="4.96" height="16.41" fill="#FB9A55"/>
<rect x="375.70" y="150.45" width="4.96" height="16.41" fill="#F57A48"/>
<rect x="379.66" y="150.45" width="4.96" height="16.41" fill="#F57A48"/>
<rect x="383.61" y="150.45" width="4.96" height="16.41" fill="#AEDDA0"/>
<rect x="387.57" y="150.45" width="4.96" height="16.41" fill="#FEC87A"/>
<rect x="391.52" y="150.45" width="4.96" height="16.41" fill="#E23E4A"/>
<rect x="395.48" y="150.45" width="4.96" height="16.41" fill="#F16644"/>
<rect x="399.44" y="150.45" width="4.96" height="16.41" fill="#F16644"/>
<rect x="403.39" y="150.45" width="4.96" height="16.41" fill="#FB9A55"/>
<rect x="407.35" y="150.45" width="4.96" height="16.41" fill="#EAF5A6"/>
<rect x="411.30" y="150.45" width="4.96" height="16.41" fill="#FAFAB8"/>
<rect x="415.26" y="150.45" width="4.96" height="16.41" fill="#FAFAB8"/>
<rect x="419.22" y="150.45" width="4.96" height="16.41" fill="#6DCDA2"/>
<rect x="423.17" y="150.45" width="4.96" height="16.41" fill="#9ED9A1"/>
<rect x="427.13" y="150.45" width="4.96" height="16.41" fill="#D4EDA0"/>
<rect x="431.08" y="150.45" width="4.96" height="16.41" fill="#86D3A2"/>
<rect x="435.04" y="150.45" width="4.96" height="16.41" fill="#FEF0A6"/>
<rect x="439.00" y="150.45" width="4.96" height="16.41" fill="#FAFAB8"/>
<rect x="442.95" y="150.45" width="4.96" height="16.41" fill="#F4F8B1"/>
<rect x="446.91" y="150.45" width="4.96" height="16.41" fill="#FAFAB8"/>
<rect x="450.86" y="150.45" width="4.96" height="16.41" fill="#FAFAB8"/>
<rect x="454.82" y="150.45" width="4.96" height="16.41" fill="#FEF0A6"/>
<rect x="458.78" y="150.45" width="4.96" height="16.41" fill="#FDB065"/>
<rect x="462.73" y="150.45" width="4.96" height="16.41" fill="#AEDDA0"/>
<rect x="466.69" y="150.45" width="4.96" height="16.41" fill="#FAFAB8"/>
<rect x="470.64" y="150.45" width="4.96" height="16.41" fill="#2184C6"/>
<rect x="474.60" y="150.45" width="4.96" height="16.41" fill="#1EB8A2"/>
<rect x="478.56" y="150.45" width="4.96" height="16.41" fill="#37BFA2"/>
<rect x="482.51" y="150.45" width="4.96" height="16.41" fill="#1EB8A2"/>
<rect x="486.47" y="150.45" width="4.96" height="16.41" fill="#48C4A2"/>
<rect x="490.42" y="150.45" width="4.96" height="16.41" fill="#1EB8A2"/>
<rect x="494.38" y="150.45" width="4.96" height="16.41" fill="#1EB8A2"/>
<rect x="498.34" y="150.45" width="4.96" height="16.41" fill="#1EB8A2"/>
<rect x="502.29" y="150.45" width="4.96" height="16.41" fill="#FDB065"/>
<rect x="506.25" y="150.45" width="4.96" height="16.41" fill="#FAFAB8"/>
<rect x="510.20" y="150.45" width="4.96" height="16.41" fill="#F4F8B1"/>
<rect x="514.16" y="150.45" width="4.96" height="16.41" fill="#F57A48"/>
<rect x="518.12" y="150.45" width="4.96" height="16.41" fill="#F16644"/>
<rect x="522.07" y="150.45" width="4.96" height="16.41" fill="#FB9A55"/>
<rect x="526.03" y="150.45" width="4.96" height="16.41" fill="#FEC87A"/>
<rect x="529.98" y="150.45" width="4.96" height="16.41" fill="#FCA35B"/>
<rect x="533.94" y="150.45" width="4.96" height="16.41" fill="#FB9A55"/>
<rect x="537.90" y="150.45" width="4.96" height="16.41" fill="#FEE090"/>
<rect x="541.85" y="150.45" width="3.96" height="16.41" fill="#FED283"/>
<rect x="177.90" y="165.86" width="4.96" height="16.41" fill="#FAFAB8"/>
<rect x="181.86" y="165.86" width="4.96" height="16.41" fill="#FAFAB8"/>
<rect x="185.81" y="165.86" width="4.96" height="16.41" fill="#FAFAB8"/>
<rect x="189.77" y="165.86" width="4.96" height="16.41" fill="#FAFAB8"/>
<rect x="193.72" y="165.86" width="4.96" height="16.41" fill="#C5E7A0"/>
<rect x="197.68" y="165.86" width="4.96" height="16.41" fill="#C5E7A0"/>
<rect x="201.64" y="165.86" width="4.96" height="16.41" fill="#F36C46"/>
<rect x="205.59" y="165.86" width="4.96" height="16.41" fill="#D4EDA0"/>
<rect x="209.55" y="165.86" width="4.96" height="16.41" fill="#FAFAB8"/>
<rect x="213.50" y="165.86" width="4.96" height="16.41" fill="#FAFAB8"/>
<rect x="217.46" y="165.86" width="4.96" height="16.41" fill="#EA4E45"/>
<rect x="221.42" y="165.86" width="4.96" height="16.41" fill="#EA4E45"/>
<rect x="225.37" y="165.86" width="4.96" height="16.41" fill="#FEE699"/>
<rect x="229.33" y="165.86" width="4.96" height="16.41" fill="#FEE699"/>
<rect x="233.28" y="165.86" width="4.96" height="16.41" fill="#FDB065"/>
<rect x="237.24" y="165.86" width="4.96" height="16.41" fill="#14A0B2"/>
<rect x="241.20" y="165.86" width="4.96" height="16.41" fill="#2184C6"/>
<rect x="245.15" y="165.86" width="4.96" height="16.41" fill="#14A0B2"/>
<rect x="249.11" y="165.86" width="4.96" height="16.41" fill="#86D3A2"/>
<rect x="253.06" y="165.86" width="4.96" height="16.41" fill="#FEF0A6"/>
<rect x="257.02" y="165.86" width="4.96" height="16.41" fill="#FAFAB8"/>
<rect x="260.98" y="165.86" width="4.96" height="16.41" fill="#FAFAB8"/>
<rect x="264.93" y="165.86" width="4.96" height="16.41" fill="#1EB8A2"/>
<rect x="268.89" y="165.86" width="4.96" height="16.41" fill="#86D3A2"/>
<rect x="272.84" y="165.86" width="4.96" height="16.41" fill="#EAF5A6"/>
<rect x="276.80" y="165.86" width="4.96" height="16.41" fill="#1995BA"/>
<rect x="280.76" y="165.86" width="4.96" height="16.41" fill="#61CAA2"/>
<rect x="284.71" y="165.86" width="4.96" height="16.41" fill="#61CAA2"/>
<rect x="288.67" y="165.86" width="4.96" height="16.41" fill="#FEE699"/>
<rect x="292.62" y="165.86" width="4.96" height="16.41" fill="#1AAEA8"/>
<rect x="296.58" y="165.86" width="4.96" height="16.41" fill="#E1F2A4"/>
<rect x="300.54" y="165.86" width="4.96" height="16.41" fill="#FEE090"/>
<rect x="304.49" y="165.86" width="4.96" height="16.41" fill="#61CAA2"/>
<rect x="308.45" y="165.86" width="4.96" height="16.41" fill="#FEC87A"/>
<rect x="312.40" y="165.86" width="4.96" height="16.41" fill="#FEC87A"/>
<rect x="316.36" y="165.86" width="4.96" height="16.41" fill="#EA4E45"/>
<rect x="320.32" y="165.86" width="4.96" height="16.41" fill="#EA4E45"/>
<rect x="324.27" y="165.86" width="4.96" height="16.41" fill="#BB184C"/>
<rect x="328.23" y="165.86" width="4.96" height="16.41" fill="#E23E4A"/>
<rect x="332.18" y="165.86" width="4.96" height="16.41" fill="#F16644"/>
<rect x="336.14" y="165.86" width="4.96" height="16.41" fill="#FB9A55"/>
<rect x="340.10" y="165.86" width="4.96" height="16.41" fill="#F16644"/>
<rect x="344.05" y="165.86" width="4.96" height="16.41" fill="#F16644"/>
<rect x="348.01" y="165.86" width="4.96" height="16.41" fill="#FEE090"/>
<rect x="351.96" y="165.86" width="4.96" height="16.41" fill="#FEE090"/>
<rect x="355.92" y="165.86" width="4.96" height="16.41" fill="#FB9A55"/>
<rect x="359.88" y="165.86" width="4.96" height="16.41" fill="#E74847"/>
<rect x="363.83" y="165.86" width="4.96" height="16.41" fill="#FEE090"/>
<rect x="367.79" y="165.86" width="4.96" height="16.41" fill="#FCF4AD"/>
<rect x="371.74" y="165.86" width="4.96" height="16.41" fill="#FEC87A"/>
<rect x="375.70" y="165.86" width="4.96" height="16.41" fill="#61CAA2"/>
<rect x="379.66" y="165.86" width="4.96" height="16.41" fill="#FCF4AD"/>
<rect x="383.61" y="165.86" width="4.96" height="16.41" fill="#F16644"/>
<rect x="387.57" y="165.86" width="4.96" height="16.41" fill="#FEC87A"/>
<rect x="391.52" y="165.86" width="4.96" height="16.41" fill="#F7874D"/>
<rect x="395.48" y="165.86" width="4.96" height="16.41" fill="#F7874D"/>
<rect x="399.44" y="165.86" width="4.96" height="16.41" fill="#F7874D"/>
<rect x="403.39" y="165.86" width="4.96" height="16.41" fill="#FCF4AD"/>
<rect x="407.35" y="165.86" width="4.96" height="16.41" fill="#EF5842"/>
<rect x="411.30" y="165.86" width="4.96" height="16.41" fill="#FCA35B"/>
<rect x="415.26" y="165.86" width="4.96" height="16.41" fill="#FDB065"/>
<rect x="419.22" y="165.86" width="4.96" height="16.41" fill="#FEE699"/>
<rect x="423.17" y="165.86" width="4.96" height="16.41" fill="#6DCDA2"/>
<rect x="427.13" y="165.86" width="4.96" height="16.41" fill="#2184C6"/>
<rect x="431.08" y="165.86" width="4.96" height="16.41" fill="#9ED9A1"/>
<rect x="435.04" y="165.86" width="4.96" height="16.41" fill="#FCF4AD"/>
<rect x="439.00" y="165.86" width="4.96" height="16.41" fill="#FDBA6D"/>
<rect x="442.95" y="165.86" width="4.96" height="16.41" fill="#FCF4AD"/>
<rect x="446.91" y="165.86" width="4.96" height="16.41" fill="#FED283"/>
<rect x="450.86" y="165.86" width="4.96" height="16.41" fill="#FCA75F"/>
<rect x="454.82" y="165.86" width="4.96" height="16.41" fill="#16A5AF"/>
<rect x="458.78" y="165.86" width="4.96" height="16.41" fill="#FEF0A6"/>
<rect x="462.73" y="165.86" width="4.96" height="16.41" fill="#F4F8B1"/>
<rect x="466.69" y="165.86" width="4.96" height="16.41" fill="#5654AA"/>
<rect x="470.64" y="165.86" width="4.96" height="16.41" fill="#FED283"/>
<rect x="474.60" y="165.86" width="4.96" height="16.41" fill="#FEC87A"/>
<rect x="478.56" y="165.86" width="4.96" height="16.41" fill="#F36C46"/>
<rect x="482.51" y="165.86" width="4.96" height="16.41" fill="#FEC87A"/>
<rect x="486.47" y="165.86" width="4.96" height="16.41" fill="#48C4A2"/>
<rect x="490.42" y="165.86" width="4.96" height="16.41" fill="#1EB8A2"/>
<rect x="494.38" y="165.86" width="4.96" height="16.41" fill="#61CAA2"/>
<rect x="498.34" y="165.86" width="4.96" height="16.41" fill="#1EB8A2"/>
<rect x="502.29" y="165.86" width="4.96" height="16.41" fill="#2184C6"/>
<rect x="506.25" y="165.86" width="4.96" height="16.41" fill="#5458AC"/>
<rect x="510.20" y="165.86" width="4.96" height="16.41" fill="#F4F8B1"/>
<rect x="514.16" y="165.86" width="4.96" height="16.41" fill="#48C4A2"/>
<rect x="518.12" y="165.86" width="4.96" height="16.41" fill="#48C4A2"/>
<rect x="522.07" y="165.86" width="4.96" height="16.41" fill="#FEF0A6"/>
<rect x="526.03" y="165.86" width="4.96" height="16.41" fill="#2184C6"/>
<rect x="529.98" y="165.86" width="4.96" height="16.41" fill="#FAFAB8"/>
<rect x="533.94" y="165.86" width="4.96" height="16.41" fill="#48C4A2"/>
<rect x="537.90" y="165.86" width="4.96" height="16.41" fill="#FCF4AD"/>
<rect x="541.85" y="165.86" width="3.96" height="16.41" fill="#FCF4AD"/>
<rect x="177.90" y="181.27" width="4.96" height="16.41" fill="#1EB8A2"/>
<rect x="181.86" y="181.27" width="4.96" height="16.41" fill="#86D3A2"/>
<rect x="185.81" y="181.27" width="4.96" height="16.41" fill="#86D3A2"/>
<rect x="189.77" y="181.27" width="4.96" height="16.41" fill="#14A0B2"/>
<rect x="193.72" y="181.27" width="4.96" height="16.41" fill="#FEF0A6"/>
<rect x="197.68" y="181.27" width="4.96" height="16.41" fill="#FEF0A6"/>
<rect x="201.64" y="181.27" width="4.96" height="16.41" fill="#FEC87A"/>
<rect x="205.59" y="181.27" width="4.96" height="16.41" fill="#FAFAB8"/>
<rect x="209.55" y="181.27" width="4.96" height="16.41" fill="#AEDDA0"/>
<rect x="213.50" y="181.27" width="4.96" height="16.41" fill="#FEC87A"/>
<rect x="217.46" y="181.27" width="4.96" height="16.41" fill="#F16644"/>
<rect x="221.42" y="181.27" width="4.96" height="16.41" fill="#EAF5A6"/>
<rect x="225.37" y="181.27" width="4.96" height="16.41" fill="#EAF5A6"/>
<rect x="229.33" y="181.27" width="4.96" height="16.41" fill="#EAF5A6"/>
<rect x="233.28" y="181.27" width="4.96" height="16.41" fill="#FB9A55"/>
<rect x="237.24" y="181.27" width="4.96" height="16.41" fill="#FCF4AD"/>
<rect x="241.20" y="181.27" width="4.96" height="16.41" fill="#FEF0A6"/>
<rect x="245.15" y="181.27" width="4.96" height="16.41" fill="#FEF0A6"/>
<rect x="249.11" y="181.27" width="4.96" height="16.41" fill="#FEC87A"/>
<rect x="253.06" y="181.27" width="4.96" height="16.41" fill="#FAFAB8"/>
<rect x="257.02" y="181.27" width="4.96" height="16.41" fill="#1EB8A2"/>
<rect x="260.98" y="181.27" width="4.96" height="16.41" fill="#86D3A2"/>
<rect x="264.93" y="181.27" width="4.96" height="16.41" fill="#F16644"/>
<rect x="268.89" y="181.27" width="4.96" height="16.41" fill="#EAF5A6"/>
<rect x="272.84" y="181.27" width="4.96" height="16.41" fill="#F57A48"/>
<rect x="276.80" y="181.27" width="4.96" height="16.41" fill="#61CAA2"/>
<rect x="280.76" y="181.27" width="4.96" height="16.41" fill="#61CAA2"/>
<rect x="284.71" y="181.27" width="4.96" height="16.41" fill="#1995BA"/>
<rect x="288.67" y="181.27" width="4.96" height="16.41" fill="#16A5AF"/>
<rect x="292.62" y="181.27" width="4.96" height="16.41" fill="#E1F2A4"/>
<rect x="296.58" y="181.27" width="4.96" height="16.41" fill="#E1F2A4"/>
<rect x="300.54" y="181.27" width="4.96" height="16.41" fill="#FEC87A"/>
<rect x="304.49" y="181.27" width="4.96" height="16.41" fill="#FAFAB8"/>
<rect x="308.45" y="181.27" width="4.96" height="16.41" fill="#FAFAB8"/>
<rect x="312.40" y="181.27" width="4.96" height="16.41" fill="#FCF4AD"/>
<rect x="316.36" y="181.27" width="4.96" height="16.41" fill="#FDB065"/>
<rect x="320.32" y="181.27" width="4.96" height="16.41" fill="#1EB8A2"/>
<rect x="324.27" y="181.27" width="4.96" height="16.41" fill="#E1F2A4"/>
<rect x="328.23" y="181.27" width="4.96" height="16.41" fill="#C5E7A0"/>
<rect x="332.18" y="181.27" width="4.96" height="16.41" fill="#FEE090"/>
<rect x="336.14" y="181.27" width="4.96" height="16.41" fill="#FB9A55"/>
<rect x="340.10" y="181.27" width="4.96" height="16.41" fill="#FEC87A"/>
<rect x="344.05" y="181.27" width="4.96" height="16.41" fill="#F16644"/>
<rect x="348.01" y="181.27" width="4.96" height="16.41" fill="#FCF4AD"/>
<rect x="351.96" y="181.27" width="4.96" height="16.41" fill="#FED283"/>
<rect x="355.92" y="181.27" width="4.96" height="16.41" fill="#F16644"/>
<rect x="359.88" y="181.27" width="4.96" height="16.41" fill="#FED283"/>
<rect x="363.83" y="181.27" width="4.96" height="16.41" fill="#FED283"/>
<rect x="367.79" y="181.27" width="4.96" height="16.41" fill="#FCF4AD"/>
<rect x="371.74" y="181.27" width="4.96" height="16.41" fill="#EF5842"/>
<rect x="375.70" y="181.27" width="4.96" height="16.41" fill="#FDBA6D"/>
<rect x="379.66" y="181.27" width="4.96" height="16.41" fill="#FDBA6D"/>
<rect x="383.61" y="181.27" width="4.96" height="16.41" fill="#FCF4AD"/>
<rect x="387.57" y="181.27" width="4.96" height="16.41" fill="#FDBA6D"/>
<rect x="391.52" y="181.27" width="4.96" height="16.41" fill="#48C4A2"/>
<rect x="395.48" y="181.27" width="4.96" height="16.41" fill="#86D3A2"/>
<rect x="399.44" y="181.27" width="4.96" height="16.41" fill="#86D3A2"/>
<rect x="403.39" y="181.27" width="4.96" height="16.41" fill="#FEE090"/>
<rect x="407.35" y="181.27" width="4.96" height="16.41" fill="#FCF4AD"/>
<rect x="411.30" y="181.27" width="4.96" height="16.41" fill="#FED283"/>
<rect x="415.26" y="181.27" width="4.96" height="16.41" fill="#FED283"/>
<rect x="419.22" y="181.27" width="4.96" height="16.41" fill="#B5144A"/>
<rect x="423.17" y="181.27" width="4.96" height="16.41" fill="#E1F2A4"/>
<rect x="427.13" y="181.27" width="4.96" height="16.41" fill="#E1F2A4"/>
<rect x="431.08" y="181.27" width="4.96" height="16.41" fill="#D4EDA0"/>
<rect x="435.04" y="181.27" width="4.96" height="16.41" fill="#6DCDA2"/>
<rect x="439.00" y="181.27" width="4.96" height="16.41" fill="#FCF6B1"/>
<rect x="442.95" y="181.27" width="4.96" height="16.41" fill="#FDB065"/>
<rect x="446.91" y="181.27" width="4.96" height="16.41" fill="#FED283"/>
<rect x="450.86" y="181.27" width="4.96" height="16.41" fill="#FED283"/>
<rect x="454.82" y="181.27" width="4.96" height="16.41" fill="#FDB065"/>
<rect x="458.78" y="181.27" width="4.96" height="16.41" fill="#FEC87A"/>
<rect x="462.73" y="181.27" width="4.96" height="16.41" fill="#6DCDA2"/>
<rect x="466.69" y="181.27" width="4.96" height="16.41" fill="#FDB065"/>
<rect x="470.64" y="181.27" width="4.96" height="16.41" fill="#FAFAB8"/>
<rect x="474.60" y="181.27" width="4.96" height="16.41" fill="#FB9A55"/>
<rect x="478.56" y="181.27" width="4.96" height="16.41" fill="#FB9A55"/>
<rect x="482.51" y="181.27" width="4.96" height="16.41" fill="#FB9A55"/>
<rect x="486.47" y="181.27" width="4.96" height="16.41" fill="#F36C46"/>
<rect x="490.42" y="181.27" width="4.96" height="16.41" fill="#FEC87A"/>
<rect x="494.38" y="181.27" width="4.96" height="16.41" fill="#61CAA2"/>
<rect x="498.34" y="181.27" width="4.96" height="16.41" fill="#FDB065"/>
<rect x="502.29" y="181.27" width="4.96" height="16.41" fill="#FCF4AD"/>
<rect x="506.25" y="181.27" width="4.96" height="16.41" fill="#FDB065"/>
<rect x="510.20" y="181.27" width="4.96" height="16.41" fill="#FCA35B"/>
<rect x="514.16" y="181.27" width="4.96" height="16.41" fill="#48C4A2"/>
<rect x="518.12" y="181.27" width="4.96" height="16.41" fill="#48C4A2"/>
<rect x="522.07" y="181.27" width="4.96" height="16.41" fill="#48C4A2"/>
<rect x="526.03" y="181.27" width="4.96" height="16.41" fill="#FDB065"/>
<rect x="529.98" y="181.27" width="4.96" height="16.41" fill="#FDB065"/>
<rect x="533.94" y="181.27" width="4.96" height="16.41" fill="#FDB065"/>
<rect x="537.90" y="181.27" width="4.96" height="16.41" fill="#6DCDA2"/>
<rect x="541.85" y="181.27" width="3.96" height="16.41" fill="#F4F8B1"/>
<rect x="177.90" y="196.68" width="4.96" height="16.41" fill="#FAFAB8"/>
<rect x="181.86" y="196.68" width="4.96" height="16.41" fill="#EAF5A6"/>
<rect x="185.81" y="196.68" width="4.96" height="16.41" fill="#EAF5A6"/>
<rect x="189.77" y="196.68" width="4.96" height="16.41" fill="#FAFAB8"/>
<rect x="193.72" y="196.68" width="4.96" height="16.41" fill="#FDB065"/>
<rect x="197.68" y="196.68" width="4.96" height="16.41" fill="#FDBA6D"/>
<rect x="201.64" y="196.68" width="4.96" height="16.41" fill="#EAF5A6"/>
<rect x="205.59" y="196.68" width="4.96" height="16.41" fill="#EAF5A6"/>
<rect x="209.55" y="196.68" width="4.96" height="16.41" fill="#16A5AF"/>
<rect x="213.50" y="196.68" width="4.96" height="16.41" fill="#2184C6"/>
<rect x="217.46" y="196.68" width="4.96" height="16.41" fill="#48C4A2"/>
<rect x="221.42" y="196.68" width="4.96" height="16.41" fill="#2184C6"/>
<rect x="225.37" y="196.68" width="4.96" height="16.41" fill="#1EB8A2"/>
<rect x="229.33" y="196.68" width="4.96" height="16.41" fill="#48C4A2"/>
<rect x="233.28" y="196.68" width="4.96" height="16.41" fill="#FAFAB8"/>
<rect x="237.24" y="196.68" width="4.96" height="16.41" fill="#2184C6"/>
<rect x="241.20" y="196.68" width="4.96" height="16.41" fill="#2184C6"/>
<rect x="245.15" y="196.68" width="4.96" height="16.41" fill="#48C4A2"/>
<rect x="249.11" y="196.68" width="4.96" height="16.41" fill="#2184C6"/>
<rect x="253.06" y="196.68" width="4.96" height="16.41" fill="#2184C6"/>
<rect x="257.02" y="196.68" width="4.96" height="16.41" fill="#16A5AF"/>
<rect x="260.98" y="196.68" width="4.96" height="16.41" fill="#FAFAB8"/>
<rect x="264.93" y="196.68" width="4.96" height="16.41" fill="#FAFAB8"/>
<rect x="268.89" y="196.68" width="4.96" height="16.41" fill="#2184C6"/>
<rect x="272.84" y="196.68" width="4.96" height="16.41" fill="#5458AC"/>
<rect x="276.80" y="196.68" width="4.96" height="16.41" fill="#2184C6"/>
<rect x="280.76" y="196.68" width="4.96" height="16.41" fill="#FAFAB8"/>
<rect x="284.71" y="196.68" width="4.96" height="16.41" fill="#1EB8A2"/>
<rect x="288.67" y="196.68" width="4.96" height="16.41" fill="#5458AC"/>
<rect x="292.62" y="196.68" width="4.96" height="16.41" fill="#14A0B2"/>
<rect x="296.58" y="196.68" width="4.96" height="16.41" fill="#4F62B0"/>
<rect x="300.54" y="196.68" width="4.96" height="16.41" fill="#FEC87A"/>
<rect x="304.49" y="196.68" width="4.96" height="16.41" fill="#B5144A"/>
<rect x="308.45" y="196.68" width="4.96" height="16.41" fill="#FB9A55"/>
<rect x="312.40" y="196.68" width="4.96" height="16.41" fill="#F16644"/>
<rect x="316.36" y="196.68" width="4.96" height="16.41" fill="#E74847"/>
<rect x="320.32" y="196.68" width="4.96" height="16.41" fill="#FAFAB8"/>
<rect x="324.27" y="196.68" width="4.96" height="16.41" fill="#FB9A55"/>
<rect x="328.23" y="196.68" width="4.96" height="16.41" fill="#F16644"/>
<rect x="332.18" y="196.68" width="4.96" height="16.41" fill="#E74847"/>
<rect x="336.14" y="196.68" width="4.96" height="16.41" fill="#FEC87A"/>
<rect x="340.10" y="196.68" width="4.96" height="16.41" fill="#FEC87A"/>
<rect x="344.05" y="196.68" width="4.96" height="16.41" fill="#FB9A55"/>
<rect x="348.01" y="196.68" width="4.96" height="16.41" fill="#BB184C"/>
<rect x="351.96" y="196.68" width="4.96" height="16.41" fill="#F16644"/>
<rect x="355.92" y="196.68" width="4.96" height="16.41" fill="#FB9A55"/>
<rect x="359.88" y="196.68" width="4.96" height="16.41" fill="#FEC87A"/>
<rect x="363.83" y="196.68" width="4.96" height="16.41" fill="#FDBA6D"/>
<rect x="367.79" y="196.68" width="4.96" height="16.41" fill="#FEC87A"/>
<rect x="371.74" y="196.68" width="4.96" height="16.41" fill="#F4F8B1"/>
<rect x="375.70" y="196.68" width="4.96" height="16.41" fill="#FDBA6D"/>
<rect x="379.66" y="196.68" width="4.96" height="16.41" fill="#FDBA6D"/>
<rect x="383.61" y="196.68" width="4.96" height="16.41" fill="#FCA35B"/>
<rect x="387.57" y="196.68" width="4.96" height="16.41" fill="#FEC87A"/>
<rect x="391.52" y="196.68" width="4.96" height="16.41" fill="#FCA35B"/>
<rect x="395.48" y="196.68" width="4.96" height="16.41" fill="#FEC87A"/>
<rect x="399.44" y="196.68" width="4.96" height="16.41" fill="#FDB065"/>
<rect x="403.39" y="196.68" width="4.96" height="16.41" fill="#FCF4AD"/>
<rect x="407.35" y="196.68" width="4.96" height="16.41" fill="#F16644"/>
<rect x="411.30" y="196.68" width="4.96" height="16.41" fill="#F16644"/>
<rect x="415.26" y="196.68" width="4.96" height="16.41" fill="#F36C46"/>
<rect x="419.22" y="196.68" width="4.96" height="16.41" fill="#FCF4AD"/>
<rect x="423.17" y="196.68" width="4.96" height="16.41" fill="#FCF6B1"/>
<rect x="427.13" y="196.68" width="4.96" height="16.41" fill="#FCF6B1"/>
<rect x="431.08" y="196.68" width="4.96" height="16.41" fill="#EAF5A6"/>
<rect x="435.04" y="196.68" width="4.96" height="16.41" fill="#F36C46"/>
<rect x="439.00" y="196.68" width="4.96" height="16.41" fill="#FAFAB8"/>
<rect x="442.95" y="196.68" width="4.96" height="16.41" fill="#FEE090"/>
<rect x="446.91" y="196.68" width="4.96" height="16.41" fill="#FEE090"/>
<rect x="450.86" y="196.68" width="4.96" height="16.41" fill="#FCF6B1"/>
<rect x="454.82" y="196.68" width="4.96" height="16.41" fill="#1AAEA8"/>
<rect x="458.78" y="196.68" width="4.96" height="16.41" fill="#2184C6"/>
<rect x="462.73" y="196.68" width="4.96" height="16.41" fill="#FEC87A"/>
<rect x="466.69" y="196.68" width="4.96" height="16.41" fill="#FEC87A"/>
<rect x="470.64" y="196.68" width="4.96" height="16.41" fill="#F4F8B1"/>
<rect x="474.60" y="196.68" width="4.96" height="16.41" fill="#1EB8A2"/>
<rect x="478.56" y="196.68" width="4.96" height="16.41" fill="#48C4A2"/>
<rect x="482.51" y="196.68" width="4.96" height="16.41" fill="#FCA35B"/>
<rect x="486.47" y="196.68" width="4.96" height="16.41" fill="#FEC87A"/>
<rect x="490.42" y="196.68" width="4.96" height="16.41" fill="#FCA35B"/>
<rect x="494.38" y="196.68" width="4.96" height="16.41" fill="#FCA35B"/>
<rect x="498.34" y="196.68" width="4.96" height="16.41" fill="#FEC87A"/>
<rect x="502.29" y="196.68" width="4.96" height="16.41" fill="#FCF4AD"/>
<rect x="506.25" y="196.68" width="4.96" height="16.41" fill="#FEE090"/>
<rect x="510.20" y="196.68" width="4.96" height="16.41" fill="#FEC87A"/>
<rect x="514.16" y="196.68" width="4.96" height="16.41" fill="#48C4A2"/>
<rect x="518.12" y="196.68" width="4.96" height="16.41" fill="#FCA35B"/>
<rect x="522.07" y="196.68" width="4.96" height="16.41" fill="#FEC87A"/>
<rect x="526.03" y="196.68" width="4.96" height="16.41" fill="#FEE090"/>
<rect x="529.98" y="196.68" width="4.96" height="16.41" fill="#FEE090"/>
<rect x="533.94" y="196.68" width="4.96" height="16.41" fill="#48C4A2"/>
<rect x="537.90" y="196.68" width="4.96" height="16.41" fill="#F7874D"/>
<rect x="541.85" y="196.68" width="3.96" height="16.41" fill="#F7874D"/>
<rect x="177.90" y="212.09" width="4.96" height="16.41" fill="#A80A46"/>
<rect x="181.86" y="212.09" width="4.96" height="16.41" fill="#A80A46"/>
<rect x="185.81" y="212.09" width="4.96" height="16.41" fill="#A80A46"/>
<rect x="189.77" y="212.09" width="4.96" height="16.41" fill="#F16644"/>
<rect x="193.72" y="212.09" width="4.96" height="16.41" fill="#E23E4A"/>
<rect x="197.68" y="212.09" width="4.96" height="16.41" fill="#B5144A"/>
<rect x="201.64" y="212.09" width="4.96" height="16.41" fill="#F57A48"/>
<rect x="205.59" y="212.09" width="4.96" height="16.41" fill="#B5144A"/>
<rect x="209.55" y="212.09" width="4.96" height="16.41" fill="#B5144A"/>
<rect x="213.50" y="212.09" width="4.96" height="16.41" fill="#EF5842"/>
<rect x="217.46" y="212.09" width="4.96" height="16.41" fill="#F16644"/>
<rect x="221.42" y="212.09" width="4.96" height="16.41" fill="#F57A48"/>
<rect x="225.37" y="212.09" width="4.96" height="16.41" fill="#FB9A55"/>
<rect x="229.33" y="212.09" width="4.96" height="16.41" fill="#FB9A55"/>
<rect x="233.28" y="212.09" width="4.96" height="16.41" fill="#EA4E45"/>
<rect x="237.24" y="212.09" width="4.96" height="16.41" fill="#FED283"/>
<rect x="241.20" y="212.09" width="4.96" height="16.41" fill="#FED283"/>
<rect x="245.15" y="212.09" width="4.96" height="16.41" fill="#FEC87A"/>
<rect x="249.11" y="212.09" width="4.96" height="16.41" fill="#FED283"/>
<rect x="253.06" y="212.09" width="4.96" height="16.41" fill="#FEF0A6"/>
<rect x="257.02" y="212.09" width="4.96" height="16.41" fill="#FB9A55"/>
<rect x="260.98" y="212.09" width="4.96" height="16.41" fill="#FEC87A"/>
<rect x="264.93" y="212.09" width="4.96" height="16.41" fill="#D4EDA0"/>
<rect x="268.89" y="212.09" width="4.96" height="16.41" fill="#E1F2A4"/>
<rect x="272.84" y="212.09" width="4.96" height="16.41" fill="#1995BA"/>
<rect x="276.80" y="212.09" width="4.96" height="16.41" fill="#2184C6"/>
<rect x="280.76" y="212.09" width="4.96" height="16.41" fill="#2184C6"/>
<rect x="284.71" y="212.09" width="4.96" height="16.41" fill="#9ED9A1"/>
<rect x="288.67" y="212.09" width="4.96" height="16.41" fill="#D4EDA0"/>
<rect x="292.62" y="212.09" width="4.96" height="16.41" fill="#1EB8A2"/>
<rect x="296.58" y="212.09" width="4.96" height="16.41" fill="#E1F2A4"/>
<rect x="300.54" y="212.09" width="4.96" height="16.41" fill="#FEF0A6"/>
<rect x="304.49" y="212.09" width="4.96" height="16.41" fill="#FAFAB8"/>
<rect x="308.45" y="212.09" width="4.96" height="16.41" fill="#FAFAB8"/>
<rect x="312.40" y="212.09" width="4.96" height="16.41" fill="#AEDDA0"/>
<rect x="316.36" y="212.09" width="4.96" height="16.41" fill="#E1F2A4"/>
<rect x="320.32" y="212.09" width="4.96" height="16.41" fill="#FCF6B1"/>
<rect x="324.27" y="212.09" width="4.96" height="16.41" fill="#FCA75F"/>
<rect x="328.23" y="212.09" width="4.96" height="16.41" fill="#D22D4E"/>
<rect x="332.18" y="212.09" width="4.96" height="16.41" fill="#F36C46"/>
<rect x="336.14" y="212.09" width="4.96" height="16.41" fill="#F36C46"/>
<rect x="340.10" y="212.09" width="4.96" height="16.41" fill="#E74847"/>
<rect x="344.05" y="212.09" width="4.96" height="16.41" fill="#FEC87A"/>
<rect x="348.01" y="212.09" width="4.96" height="16.41" fill="#FB9A55"/>
<rect x="351.96" y="212.09" width="4.96" height="16.41" fill="#D22D4E"/>
<rect x="355.92" y="212.09" width="4.96" height="16.41" fill="#F4F8B1"/>
<rect x="359.88" y="212.09" width="4.96" height="16.41" fill="#F4F8B1"/>
<rect x="363.83" y="212.09" width="4.96" height="16.41" fill="#61CAA2"/>
<rect x="367.79" y="212.09" width="4.96" height="16.41" fill="#FEC87A"/>
<rect x="371.74" y="212.09" width="4.96" height="16.41" fill="#FEC87A"/>
<rect x="375.70" y="212.09" width="4.96" height="16.41" fill="#FB9A55"/>
<rect x="379.66" y="212.09" width="4.96" height="16.41" fill="#F36C46"/>
<rect x="383.61" y="212.09" width="4.96" height="16.41" fill="#FB9A55"/>
<rect x="387.57" y="212.09" width="4.96" height="16.41" fill="#FDB065"/>
<rect x="391.52" y="212.09" width="4.96" height="16.41" fill="#FCF4AD"/>
<rect x="395.48" y="212.09" width="4.96" height="16.41" fill="#FED283"/>
<rect x="399.44" y="212.09" width="4.96" height="16.41" fill="#FED283"/>
<rect x="403.39" y="212.09" width="4.96" height="16.41" fill="#FED283"/>
<rect x="407.35" y="212.09" width="4.96" height="16.41" fill="#E1F2A4"/>
<rect x="411.30" y="212.09" width="4.96" height="16.41" fill="#D4EDA0"/>
<rect x="415.26" y="212.09" width="4.96" height="16.41" fill="#E1F2A4"/>
<rect x="419.22" y="212.09" width="4.96" height="16.41" fill="#FDB065"/>
<rect x="423.17" y="212.09" width="4.96" height="16.41" fill="#61CAA2"/>
<rect x="427.13" y="212.09" width="4.96" height="16.41" fill="#86D3A2"/>
<rect x="431.08" y="212.09" width="4.96" height="16.41" fill="#48C4A2"/>
<rect x="435.04" y="212.09" width="4.96" height="16.41" fill="#2184C6"/>
<rect x="439.00" y="212.09" width="4.96" height="16.41" fill="#1EB8A2"/>
<rect x="442.95" y="212.09" width="4.96" height="16.41" fill="#5458AC"/>
<rect x="446.91" y="212.09" width="4.96" height="16.41" fill="#5458AC"/>
<rect x="450.86" y="212.09" width="4.96" height="16.41" fill="#5458AC"/>
<rect x="454.82" y="212.09" width="4.96" height="16.41" fill="#1EB8A2"/>
<rect x="458.78" y="212.09" width="4.96" height="16.41" fill="#FED283"/>
<rect x="462.73" y="212.09" width="4.96" height="16.41" fill="#5458AC"/>
<rect x="466.69" y="212.09" width="4.96" height="16.41" fill="#5458AC"/>
<rect x="470.64" y="212.09" width="4.96" height="16.41" fill="#4669B4"/>
<rect x="474.60" y="212.09" width="4.96" height="16.41" fill="#1EB8A2"/>
<rect x="478.56" y="212.09" width="4.96" height="16.41" fill="#54C7A2"/>
<rect x="482.51" y="212.09" width="4.96" height="16.41" fill="#1EB8A2"/>
<rect x="486.47" y="212.09" width="4.96" height="16.41" fill="#54C7A2"/>
<rect x="490.42" y="212.09" width="4.96" height="16.41" fill="#1EB8A2"/>
<rect x="494.38" y="212.09" width="4.96" height="16.41" fill="#54C7A2"/>
<rect x="498.34" y="212.09" width="4.96" height="16.41" fill="#1EB8A2"/>
<rect x="502.29" y="212.09" width="4.96" height="16.41" fill="#2184C6"/>
<rect x="506.25" y="212.09" width="4.96" height="16.41" fill="#5458AC"/>
<rect x="510.20" y="212.09" width="4.96" height="16.41" fill="#5458AC"/>
<rect x="514.16" y="212.09" width="4.96" height="16.41" fill="#54C7A2"/>
<rect x="518.12" y="212.09" width="4.96" height="16.41" fill="#54C7A2"/>
<rect x="522.07" y="212.09" width="4.96" height="16.41" fill="#96D7A1"/>
<rect x="526.03" y="212.09" width="4.96" height="16.41" fill="#1A92BC"/>
<rect x="529.98" y="212.09" width="4.96" height="16.41" fill="#1A92BC"/>
<rect x="533.94" y="212.09" width="4.96" height="16.41" fill="#54C7A2"/>
<rect x="537.90" y="212.09" width="4.96" height="16.41" fill="#2184C6"/>
<rect x="541.85" y="212.09" width="3.96" height="16.41" fill="#5458AC"/>
<rect x="177.90" y="227.50" width="4.96" height="16.41" fill="#FEC87A"/>
<rect x="181.86" y="227.50" width="4.96" height="16.41" fill="#F57A48"/>
<rect x="185.81" y="227.50" width="4.96" height="16.41" fill="#F57A48"/>
<rect x="189.77" y="227.50" width="4.96" height="16.41" fill="#FEC87A"/>
<rect x="193.72" y="227.50" width="4.96" height="16.41" fill="#6DCDA2"/>
<rect x="197.68" y="227.50" width="4.96" height="16.41" fill="#F4F8B1"/>
<rect x="201.64" y="227.50" width="4.96" height="16.41" fill="#F4F8B1"/>
<rect x="205.59" y="227.50" width="4.96" height="16.41" fill="#F57A48"/>
<rect x="209.55" y="227.50" width="4.96" height="16.41" fill="#FEC87A"/>
<rect x="213.50" y="227.50" width="4.96" height="16.41" fill="#FDBA6D"/>
<rect x="217.46" y="227.50" width="4.96" height="16.41" fill="#86D3A2"/>
<rect x="221.42" y="227.50" width="4.96" height="16.41" fill="#E1F2A4"/>
<rect x="225.37" y="227.50" width="4.96" height="16.41" fill="#FB9A55"/>
<rect x="229.33" y="227.50" width="4.96" height="16.41" fill="#FB9A55"/>
<rect x="233.28" y="227.50" width="4.96" height="16.41" fill="#FEE699"/>
<rect x="237.24" y="227.50" width="4.96" height="16.41" fill="#B5144A"/>
<rect x="241.20" y="227.50" width="4.96" height="16.41" fill="#E23E4A"/>
<rect x="245.15" y="227.50" width="4.96" height="16.41" fill="#E74847"/>
<rect x="249.11" y="227.50" width="4.96" height="16.41" fill="#D8334C"/>
<rect x="253.06" y="227.50" width="4.96" height="16.41" fill="#FEF0A6"/>
<rect x="257.02" y="227.50" width="4.96" height="16.41" fill="#F57A48"/>
<rect x="260.98" y="227.50" width="4.96" height="16.41" fill="#B5144A"/>
<rect x="264.93" y="227.50" width="4.96" height="16.41" fill="#FEE699"/>
<rect x="268.89" y="227.50" width="4.96" height="16.41" fill="#B5144A"/>
<rect x="272.84" y="227.50" width="4.96" height="16.41" fill="#FEC87A"/>
<rect x="276.80" y="227.50" width="4.96" height="16.41" fill="#FCF6B1"/>
<rect x="280.76" y="227.50" width="4.96" height="16.41" fill="#FEC87A"/>
<rect x="284.71" y="227.50" width="4.96" height="16.41" fill="#F36C46"/>
<rect x="288.67" y="227.50" width="4.96" height="16.41" fill="#FEC87A"/>
<rect x="292.62" y="227.50" width="4.96" height="16.41" fill="#EF5842"/>
<rect x="296.58" y="227.50" width="4.96" height="16.41" fill="#EF5842"/>
<rect x="300.54" y="227.50" width="4.96" height="16.41" fill="#EAF5A6"/>
<rect x="304.49" y="227.50" width="4.96" height="16.41" fill="#1EB8A2"/>
<rect x="308.45" y="227.50" width="4.96" height="16.41" fill="#1EB8A2"/>
<rect x="312.40" y="227.50" width="4.96" height="16.41" fill="#1EB8A2"/>
<rect x="316.36" y="227.50" width="4.96" height="16.41" fill="#1EB8A2"/>
<rect x="320.32" y="227.50" width="4.96" height="16.41" fill="#9ED9A1"/>
<rect x="324.27" y="227.50" width="4.96" height="16.41" fill="#1AAEA8"/>
<rect x="328.23" y="227.50" width="4.96" height="16.41" fill="#1AAEA8"/>
<rect x="332.18" y="227.50" width="4.96" height="16.41" fill="#9ED9A1"/>
<rect x="336.14" y="227.50" width="4.96" height="16.41" fill="#FCA35B"/>
<rect x="340.10" y="227.50" width="4.96" height="16.41" fill="#FEC87A"/>
<rect x="344.05" y="227.50" width="4.96" height="16.41" fill="#F4F8B1"/>
<rect x="348.01" y="227.50" width="4.96" height="16.41" fill="#1EB8A2"/>
<rect x="351.96" y="227.50" width="4.96" height="16.41" fill="#EAF5A6"/>
<rect x="355.92" y="227.50" width="4.96" height="16.41" fill="#54C7A2"/>
<rect x="359.88" y="227.50" width="4.96" height="16.41" fill="#16A5AF"/>
<rect x="363.83" y="227.50" width="4.96" height="16.41" fill="#54C7A2"/>
<rect x="367.79" y="227.50" width="4.96" height="16.41" fill="#3D70B9"/>
<rect x="371.74" y="227.50" width="4.96" height="16.41" fill="#BDE3A0"/>
<rect x="375.70" y="227.50" width="4.96" height="16.41" fill="#37BFA2"/>
<rect x="379.66" y="227.50" width="4.96" height="16.41" fill="#86D3A2"/>
<rect x="383.61" y="227.50" width="4.96" height="16.41" fill="#1EB8A2"/>
<rect x="387.57" y="227.50" width="4.96" height="16.41" fill="#4F62B0"/>
<rect x="391.52" y="227.50" width="4.96" height="16.41" fill="#2184C6"/>
<rect x="395.48" y="227.50" width="4.96" height="16.41" fill="#2184C6"/>
<rect x="399.44" y="227.50" width="4.96" height="16.41" fill="#2184C6"/>
<rect x="403.39" y="227.50" width="4.96" height="16.41" fill="#5458AC"/>
<rect x="407.35" y="227.50" width="4.96" height="16.41" fill="#2184C6"/>
<rect x="411.30" y="227.50" width="4.96" height="16.41" fill="#1995BA"/>
<rect x="415.26" y="227.50" width="4.96" height="16.41" fill="#1EB8A2"/>
<rect x="419.22" y="227.50" width="4.96" height="16.41" fill="#FEE699"/>
<rect x="423.17" y="227.50" width="4.96" height="16.41" fill="#FEE699"/>
<rect x="427.13" y="227.50" width="4.96" height="16.41" fill="#FCA35B"/>
<rect x="431.08" y="227.50" width="4.96" height="16.41" fill="#E74847"/>
<rect x="435.04" y="227.50" width="4.96" height="16.41" fill="#F16644"/>
<rect x="439.00" y="227.50" width="4.96" height="16.41" fill="#EAF5A6"/>
<rect x="442.95" y="227.50" width="4.96" height="16.41" fill="#FEE699"/>
<rect x="446.91" y="227.50" width="4.96" height="16.41" fill="#FEE699"/>
<rect x="450.86" y="227.50" width="4.96" height="16.41" fill="#FEE699"/>
<rect x="454.82" y="227.50" width="4.96" height="16.41" fill="#1EB8A2"/>
<rect x="458.78" y="227.50" width="4.96" height="16.41" fill="#2184C6"/>
<rect x="462.73" y="227.50" width="4.96" height="16.41" fill="#FCF6B1"/>
<rect x="466.69" y="227.50" width="4.96" height="16.41" fill="#FCF6B1"/>
<rect x="470.64" y="227.50" width="4.96" height="16.41" fill="#FAFAB8"/>
<rect x="474.60" y="227.50" width="4.96" height="16.41" fill="#FDBA6D"/>
<rect x="478.56" y="227.50" width="4.96" height="16.41" fill="#48C4A2"/>
<rect x="482.51" y="227.50" width="4.96" height="16.41" fill="#1EB8A2"/>
<rect x="486.47" y="227.50" width="4.96" height="16.41" fill="#FCA35B"/>
<rect x="490.42" y="227.50" width="4.96" height="16.41" fill="#FCA35B"/>
<rect x="494.38" y="227.50" width="4.96" height="16.41" fill="#1EB8A2"/>
<rect x="498.34" y="227.50" width="4.96" height="16.41" fill="#FDBA6D"/>
<rect x="502.29" y="227.50" width="4.96" height="16.41" fill="#FCF4AD"/>
<rect x="506.25" y="227.50" width="4.96" height="16.41" fill="#FCF4AD"/>
<rect x="510.20" y="227.50" width="4.96" height="16.41" fill="#FEE699"/>
<rect x="514.16" y="227.50" width="4.96" height="16.41" fill="#54C7A2"/>
<rect x="518.12" y="227.50" width="4.96" height="16.41" fill="#54C7A2"/>
<rect x="522.07" y="227.50" width="4.96" height="16.41" fill="#C5E7A0"/>
<rect x="526.03" y="227.50" width="4.96" height="16.41" fill="#1A92BC"/>
<rect x="529.98" y="227.50" width="4.96" height="16.41" fill="#1A92BC"/>
<rect x="533.94" y="227.50" width="4.96" height="16.41" fill="#54C7A2"/>
<rect x="537.90" y="227.50" width="4.96" height="16.41" fill="#16A5AF"/>
<rect x="541.85" y="227.50" width="3.96" height="16.41" fill="#86D3A2"/>
<rect x="177.90" y="242.91" width="4.96" height="16.41" fill="#E1F2A4"/>
<rect x="181.86" y="242.91" width="4.96" height="16.41" fill="#F57A48"/>
<rect x="185.81" y="242.91" width="4.96" height="16.41" fill="#F57A48"/>
<rect x="189.77" y="242.91" width="4.96" height="16.41" fill="#FAFAB8"/>
<rect x="193.72" y="242.91" width="4.96" height="16.41" fill="#FEC87A"/>
<rect x="197.68" y="242.91" width="4.96" height="16.41" fill="#F4F8B1"/>
<rect x="201.64" y="242.91" width="4.96" height="16.41" fill="#F57A48"/>
<rect x="205.59" y="242.91" width="4.96" height="16.41" fill="#FCF4AD"/>
<rect x="209.55" y="242.91" width="4.96" height="16.41" fill="#D4EDA0"/>
<rect x="213.50" y="242.91" width="4.96" height="16.41" fill="#FCF4AD"/>
<rect x="217.46" y="242.91" width="4.96" height="16.41" fill="#EAF5A6"/>
<rect x="221.42" y="242.91" width="4.96" height="16.41" fill="#F57A48"/>
<rect x="225.37" y="242.91" width="4.96" height="16.41" fill="#EA4E45"/>
<rect x="229.33" y="242.91" width="4.96" height="16.41" fill="#EA4E45"/>
<rect x="233.28" y="242.91" width="4.96" height="16.41" fill="#EA4E45"/>
<rect x="237.24" y="242.91" width="4.96" height="16.41" fill="#EA4E45"/>
<rect x="241.20" y="242.91" width="4.96" height="16.41" fill="#EA4E45"/>
<rect x="245.15" y="242.91" width="4.96" height="16.41" fill="#D8334C"/>
<rect x="249.11" y="242.91" width="4.96" height="16.41" fill="#D8334C"/>
<rect x="253.06" y="242.91" width="4.96" height="16.41" fill="#E74847"/>
<rect x="257.02" y="242.91" width="4.96" height="16.41" fill="#FDBA6D"/>
<rect x="260.98" y="242.91" width="4.96" height="16.41" fill="#FDBA6D"/>
<rect x="264.93" y="242.91" width="4.96" height="16.41" fill="#FDB065"/>
<rect x="268.89" y="242.91" width="4.96" height="16.41" fill="#FDB065"/>
<rect x="272.84" y="242.91" width="4.96" height="16.41" fill="#B5144A"/>
<rect x="276.80" y="242.91" width="4.96" height="16.41" fill="#F36C46"/>
<rect x="280.76" y="242.91" width="4.96" height="16.41" fill="#F36C46"/>
<rect x="284.71" y="242.91" width="4.96" height="16.41" fill="#F36C46"/>
<rect x="288.67" y="242.91" width="4.96" height="16.41" fill="#E23E4A"/>
<rect x="292.62" y="242.91" width="4.96" height="16.41" fill="#FCF6B1"/>
<rect x="296.58" y="242.91" width="4.96" height="16.41" fill="#F57A48"/>
<rect x="300.54" y="242.91" width="4.96" height="16.41" fill="#FEE699"/>
<rect x="304.49" y="242.91" width="4.96" height="16.41" fill="#FAFAB8"/>
<rect x="308.45" y="242.91" width="4.96" height="16.41" fill="#9ED9A1"/>
<rect x="312.40" y="242.91" width="4.96" height="16.41" fill="#C5E7A0"/>
<rect x="316.36" y="242.91" width="4.96" height="16.41" fill="#E1F2A4"/>
<rect x="320.32" y="242.91" width="4.96" height="16.41" fill="#E1F2A4"/>
<rect x="324.27" y="242.91" width="4.96" height="16.41" fill="#1EB8A2"/>
<rect x="328.23" y="242.91" width="4.96" height="16.41" fill="#1EB8A2"/>
<rect x="332.18" y="242.91" width="4.96" height="16.41" fill="#5458AC"/>
<rect x="336.14" y="242.91" width="4.96" height="16.41" fill="#48C4A2"/>
<rect x="340.10" y="242.91" width="4.96" height="16.41" fill="#1EB8A2"/>
<rect x="344.05" y="242.91" width="4.96" height="16.41" fill="#14A0B2"/>
<rect x="348.01" y="242.91" width="4.96" height="16.41" fill="#5458AC"/>
<rect x="351.96" y="242.91" width="4.96" height="16.41" fill="#5458AC"/>
<rect x="355.92" y="242.91" width="4.96" height="16.41" fill="#54C7A2"/>
<rect x="359.88" y="242.91" width="4.96" height="16.41" fill="#16A5AF"/>
<rect x="363.83" y="242.91" width="4.96" height="16.41" fill="#54C7A2"/>
<rect x="367.79" y="242.91" width="4.96" height="16.41" fill="#3D70B9"/>
<rect x="371.74" y="242.91" width="4.96" height="16.41" fill="#5458AC"/>
<rect x="375.70" y="242.91" width="4.96" height="16.41" fill="#1EB8A2"/>
<rect x="379.66" y="242.91" width="4.96" height="16.41" fill="#FCF6B1"/>
<rect x="383.61" y="242.91" width="4.96" height="16.41" fill="#5458AC"/>
<rect x="387.57" y="242.91" width="4.96" height="16.41" fill="#5458AC"/>
<rect x="391.52" y="242.91" width="4.96" height="16.41" fill="#1EB8A2"/>
<rect x="395.48" y="242.91" width="4.96" height="16.41" fill="#5458AC"/>
<rect x="399.44" y="242.91" width="4.96" height="16.41" fill="#5458AC"/>
<rect x="403.39" y="242.91" width="4.96" height="16.41" fill="#5458AC"/>
<rect x="407.35" y="242.91" width="4.96" height="16.41" fill="#2184C6"/>
<rect x="411.30" y="242.91" width="4.96" height="16.41" fill="#54C7A2"/>
<rect x="415.26" y="242.91" width="4.96" height="16.41" fill="#6DCDA2"/>
<rect x="419.22" y="242.91" width="4.96" height="16.41" fill="#5458AC"/>
<rect x="423.17" y="242.91" width="4.96" height="16.41" fill="#2184C6"/>
<rect x="427.13" y="242.91" width="4.96" height="16.41" fill="#1EB8A2"/>
<rect x="431.08" y="242.91" width="4.96" height="16.41" fill="#61CAA2"/>
<rect x="435.04" y="242.91" width="4.96" height="16.41" fill="#2184C6"/>
<rect x="439.00" y="242.91" width="4.96" height="16.41" fill="#5458AC"/>
<rect x="442.95" y="242.91" width="4.96" height="16.41" fill="#5458AC"/>
<rect x="446.91" y="242.91" width="4.96" height="16.41" fill="#9ED9A1"/>
<rect x="450.86" y="242.91" width="4.96" height="16.41" fill="#FCF6B1"/>
<rect x="454.82" y="242.91" width="4.96" height="16.41" fill="#FB9A55"/>
<rect x="458.78" y="242.91" width="4.96" height="16.41" fill="#FEE090"/>
<rect x="462.73" y="242.91" width="4.96" height="16.41" fill="#C82250"/>
<rect x="466.69" y="242.91" width="4.96" height="16.41" fill="#FDB065"/>
<rect x="470.64" y="242.91" width="4.96" height="16.41" fill="#86D3A2"/>
<rect x="474.60" y="242.91" width="4.96" height="16.41" fill="#1EB8A2"/>
<rect x="478.56" y="242.91" width="4.96" height="16.41" fill="#54C7A2"/>
<rect x="482.51" y="242.91" width="4.96" height="16.41" fill="#1EB8A2"/>
<rect x="486.47" y="242.91" width="4.96" height="16.41" fill="#54C7A2"/>
<rect x="490.42" y="242.91" width="4.96" height="16.41" fill="#1EB8A2"/>
<rect x="494.38" y="242.91" width="4.96" height="16.41" fill="#54C7A2"/>
<rect x="498.34" y="242.91" width="4.96" height="16.41" fill="#1EB8A2"/>
<rect x="502.29" y="242.91" width="4.96" height="16.41" fill="#1995BA"/>
<rect x="506.25" y="242.91" width="4.96" height="16.41" fill="#FCF4AD"/>
<rect x="510.20" y="242.91" width="4.96" height="16.41" fill="#FEE699"/>
<rect x="514.16" y="242.91" width="4.96" height="16.41" fill="#54C7A2"/>
<rect x="518.12" y="242.91" width="4.96" height="16.41" fill="#54C7A2"/>
<rect x="522.07" y="242.91" width="4.96" height="16.41" fill="#5458AC"/>
<rect x="526.03" y="242.91" width="4.96" height="16.41" fill="#1A92BC"/>
<rect x="529.98" y="242.91" width="4.96" height="16.41" fill="#1A92BC"/>
<rect x="533.94" y="242.91" width="4.96" height="16.41" fill="#54C7A2"/>
<rect x="537.90" y="242.91" width="4.96" height="16.41" fill="#7AD0A2"/>
<rect x="541.85" y="242.91" width="3.96" height="16.41" fill="#FEE699"/>
<rect x="177.90" y="258.32" width="4.96" height="16.41" fill="#E1F2A4"/>
<rect x="181.86" y="258.32" width="4.96" height="16.41" fill="#48C4A2"/>
<rect x="185.81" y="258.32" width="4.96" height="16.41" fill="#48C4A2"/>
<rect x="189.77" y="258.32" width="4.96" height="16.41" fill="#E23E4A"/>
<rect x="193.72" y="258.32" width="4.96" height="16.41" fill="#FEC87A"/>
<rect x="197.68" y="258.32" width="4.96" height="16.41" fill="#FCF6B1"/>
<rect x="201.64" y="258.32" width="4.96" height="16.41" fill="#F16644"/>
<rect x="205.59" y="258.32" width="4.96" height="16.41" fill="#FCF6B1"/>
<rect x="209.55" y="258.32" width="4.96" height="16.41" fill="#F0F7AD"/>
<rect x="213.50" y="258.32" width="4.96" height="16.41" fill="#EAF5A6"/>
<rect x="217.46" y="258.32" width="4.96" height="16.41" fill="#F0F7AD"/>
<rect x="221.42" y="258.32" width="4.96" height="16.41" fill="#F4F8B1"/>
<rect x="225.37" y="258.32" width="4.96" height="16.41" fill="#FCF6B1"/>
<rect x="229.33" y="258.32" width="4.96" height="16.41" fill="#FCF6B1"/>
<rect x="233.28" y="258.32" width="4.96" height="16.41" fill="#FCF6B1"/>
<rect x="237.24" y="258.32" width="4.96" height="16.41" fill="#EAF5A6"/>
<rect x="241.20" y="258.32" width="4.96" height="16.41" fill="#F4F8B1"/>
<rect x="245.15" y="258.32" width="4.96" height="16.41" fill="#EAF5A6"/>
<rect x="249.11" y="258.32" width="4.96" height="16.41" fill="#FEC87A"/>
<rect x="253.06" y="258.32" width="4.96" height="16.41" fill="#FEE090"/>
<rect x="257.02" y="258.32" width="4.96" height="16.41" fill="#FCF6B1"/>
<rect x="260.98" y="258.32" width="4.96" height="16.41" fill="#F36C46"/>
<rect x="264.93" y="258.32" width="4.96" height="16.41" fill="#F36C46"/>
<rect x="268.89" y="258.32" width="4.96" height="16.41" fill="#FEC87A"/>
<rect x="272.84" y="258.32" width="4.96" height="16.41" fill="#F4F8B1"/>
<rect x="276.80" y="258.32" width="4.96" height="16.41" fill="#E23E4A"/>
<rect x="280.76" y="258.32" width="4.96" height="16.41" fill="#B5144A"/>
<rect x="284.71" y="258.32" width="4.96" height="16.41" fill="#F36C46"/>
<rect x="288.67" y="258.32" width="4.96" height="16.41" fill="#FB9A55"/>
<rect x="292.62" y="258.32" width="4.96" height="16.41" fill="#D8334C"/>
<rect x="296.58" y="258.32" width="4.96" height="16.41" fill="#F57A48"/>
<rect x="300.54" y="258.32" width="4.96" height="16.41" fill="#9ED9A1"/>
<rect x="304.49" y="258.32" width="4.96" height="16.41" fill="#9ED9A1"/>
<rect x="308.45" y="258.32" width="4.96" height="16.41" fill="#9ED9A1"/>
<rect x="312.40" y="258.32" width="4.96" height="16.41" fill="#FCF6B1"/>
<rect x="316.36" y="258.32" width="4.96" height="16.41" fill="#9ED9A1"/>
<rect x="320.32" y="258.32" width="4.96" height="16.41" fill="#16A5AF"/>
<rect x="324.27" y="258.32" width="4.96" height="16.41" fill="#1EB8A2"/>
<rect x="328.23" y="258.32" width="4.96" height="16.41" fill="#1EB8A2"/>
<rect x="332.18" y="258.32" width="4.96" height="16.41" fill="#40C2A2"/>
<rect x="336.14" y="258.32" width="4.96" height="16.41" fill="#54C7A2"/>
<rect x="340.10" y="258.32" width="4.96" height="16.41" fill="#1EB8A2"/>
<rect x="344.05" y="258.32" width="4.96" height="16.41" fill="#FCF6B1"/>
<rect x="348.01" y="258.32" width="4.96" height="16.41" fill="#FCF6B1"/>
<rect x="351.96" y="258.32" width="4.96" height="16.41" fill="#54C7A2"/>
<rect x="355.92" y="258.32" width="4.96" height="16.41" fill="#40C2A2"/>
<rect x="359.88" y="258.32" width="4.96" height="16.41" fill="#1AAEA8"/>
<rect x="363.83" y="258.32" width="4.96" height="16.41" fill="#FEE699"/>
<rect x="367.79" y="258.32" width="4.96" height="16.41" fill="#4F62B0"/>
<rect x="371.74" y="258.32" width="4.96" height="16.41" fill="#5458AC"/>
<rect x="375.70" y="258.32" width="4.96" height="16.41" fill="#54C7A2"/>
<rect x="379.66" y="258.32" width="4.96" height="16.41" fill="#5458AC"/>
<rect x="383.61" y="258.32" width="4.96" height="16.41" fill="#FEE090"/>
<rect x="387.57" y="258.32" width="4.96" height="16.41" fill="#FEC87A"/>
<rect x="391.52" y="258.32" width="4.96" height="16.41" fill="#E1F2A4"/>
<rect x="395.48" y="258.32" width="4.96" height="16.41" fill="#F4F8B1"/>
<rect x="399.44" y="258.32" width="4.96" height="16.41" fill="#FAFAB8"/>
<rect x="403.39" y="258.32" width="4.96" height="16.41" fill="#FAFAB8"/>
<rect x="407.35" y="258.32" width="4.96" height="16.41" fill="#FEF0A6"/>
<rect x="411.30" y="258.32" width="4.96" height="16.41" fill="#FEF0A6"/>
<rect x="415.26" y="258.32" width="4.96" height="16.41" fill="#EAF5A6"/>
<rect x="419.22" y="258.32" width="4.96" height="16.41" fill="#EAF5A6"/>
<rect x="423.17" y="258.32" width="4.96" height="16.41" fill="#E1F2A4"/>
<rect x="427.13" y="258.32" width="4.96" height="16.41" fill="#EAF5A6"/>
<rect x="431.08" y="258.32" width="4.96" height="16.41" fill="#54C7A2"/>
<rect x="435.04" y="258.32" width="4.96" height="16.41" fill="#FEF0A6"/>
<rect x="439.00" y="258.32" width="4.96" height="16.41" fill="#EAF5A6"/>
<rect x="442.95" y="258.32" width="4.96" height="16.41" fill="#FCF6B1"/>
<rect x="446.91" y="258.32" width="4.96" height="16.41" fill="#EDF6AA"/>
<rect x="450.86" y="258.32" width="4.96" height="16.41" fill="#FCF6B1"/>
<rect x="454.82" y="258.32" width="4.96" height="16.41" fill="#FDB065"/>
<rect x="458.78" y="258.32" width="4.96" height="16.41" fill="#F4F8B1"/>
<rect x="462.73" y="258.32" width="4.96" height="16.41" fill="#9ED9A1"/>
<rect x="466.69" y="258.32" width="4.96" height="16.41" fill="#E1F2A4"/>
<rect x="470.64" y="258.32" width="4.96" height="16.41" fill="#FCA35B"/>
<rect x="474.60" y="258.32" width="4.96" height="16.41" fill="#FDBA6D"/>
<rect x="478.56" y="258.32" width="4.96" height="16.41" fill="#FB9A55"/>
<rect x="482.51" y="258.32" width="4.96" height="16.41" fill="#1EB8A2"/>
<rect x="486.47" y="258.32" width="4.96" height="16.41" fill="#54C7A2"/>
<rect x="490.42" y="258.32" width="4.96" height="16.41" fill="#1EB8A2"/>
<rect x="494.38" y="258.32" width="4.96" height="16.41" fill="#FB9A55"/>
<rect x="498.34" y="258.32" width="4.96" height="16.41" fill="#FDBA6D"/>
<rect x="502.29" y="258.32" width="4.96" height="16.41" fill="#FCF6B1"/>
<rect x="506.25" y="258.32" width="4.96" height="16.41" fill="#FED283"/>
<rect x="510.20" y="258.32" width="4.96" height="16.41" fill="#FCF6B1"/>
<rect x="514.16" y="258.32" width="4.96" height="16.41" fill="#54C7A2"/>
<rect x="518.12" y="258.32" width="4.96" height="16.41" fill="#54C7A2"/>
<rect x="522.07" y="258.32" width="4.96" height="16.41" fill="#EAF5A6"/>
<rect x="526.03" y="258.32" width="4.96" height="16.41" fill="#FCF6B1"/>
<rect x="529.98" y="258.32" width="4.96" height="16.41" fill="#2184C6"/>
<rect x="533.94" y="258.32" width="4.96" height="16.41" fill="#54C7A2"/>
<rect x="537.90" y="258.32" width="4.96" height="16.41" fill="#FCF4AD"/>
<rect x="541.85" y="258.32" width="3.96" height="16.41" fill="#FCF4AD"/>
<rect x="177.90" y="273.73" width="4.96" height="16.41" fill="#9ED9A1"/>
<rect x="181.86" y="273.73" width="4.96" height="16.41" fill="#FEC87A"/>
<rect x="185.81" y="273.73" width="4.96" height="16.41" fill="#FEC87A"/>
<rect x="189.77" y="273.73" width="4.96" height="16.41" fill="#EA4E45"/>
<rect x="193.72" y="273.73" width="4.96" height="16.41" fill="#F36C46"/>
<rect x="197.68" y="273.73" width="4.96" height="16.41" fill="#48C4A2"/>
<rect x="201.64" y="273.73" width="4.96" height="16.41" fill="#48C4A2"/>
<rect x="205.59" y="273.73" width="4.96" height="16.41" fill="#FCF6B1"/>
<rect x="209.55" y="273.73" width="4.96" height="16.41" fill="#FEC87A"/>
<rect x="213.50" y="273.73" width="4.96" height="16.41" fill="#FCF6B1"/>
<rect x="217.46" y="273.73" width="4.96" height="16.41" fill="#FCF4AD"/>
<rect x="221.42" y="273.73" width="4.96" height="16.41" fill="#FEC87A"/>
<rect x="225.37" y="273.73" width="4.96" height="16.41" fill="#48C4A2"/>
<rect x="229.33" y="273.73" width="4.96" height="16.41" fill="#86D3A2"/>
<rect x="233.28" y="273.73" width="4.96" height="16.41" fill="#1EB8A2"/>
<rect x="237.24" y="273.73" width="4.96" height="16.41" fill="#FEBE72"/>
<rect x="241.20" y="273.73" width="4.96" height="16.41" fill="#FEBE72"/>
<rect x="245.15" y="273.73" width="4.96" height="16.41" fill="#FCF6B1"/>
<rect x="249.11" y="273.73" width="4.96" height="16.41" fill="#FEC87A"/>
<rect x="253.06" y="273.73" width="4.96" height="16.41" fill="#FCF6B1"/>
<rect x="257.02" y="273.73" width="4.96" height="16.41" fill="#FEC87A"/>
<rect x="260.98" y="273.73" width="4.96" height="16.41" fill="#F4F8B1"/>
<rect x="264.93" y="273.73" width="4.96" height="16.41" fill="#F4F8B1"/>
<rect x="268.89" y="273.73" width="4.96" height="16.41" fill="#F4F8B1"/>
<rect x="272.84" y="273.73" width="4.96" height="16.41" fill="#E1F2A4"/>
<rect x="276.80" y="273.73" width="4.96" height="16.41" fill="#F36C46"/>
<rect x="280.76" y="273.73" width="4.96" height="16.41" fill="#FCF6B1"/>
<rect x="284.71" y="273.73" width="4.96" height="16.41" fill="#F36C46"/>
<rect x="288.67" y="273.73" width="4.96" height="16.41" fill="#FDBA6D"/>
<rect x="292.62" y="273.73" width="4.96" height="16.41" fill="#FCA35B"/>
<rect x="296.58" y="273.73" width="4.96" height="16.41" fill="#FCA35B"/>
<rect x="300.54" y="273.73" width="4.96" height="16.41" fill="#2FBDA2"/>
<rect x="304.49" y="273.73" width="4.96" height="16.41" fill="#E1F2A4"/>
<rect x="308.45" y="273.73" width="4.96" height="16.41" fill="#54C7A2"/>
<rect x="312.40" y="273.73" width="4.96" height="16.41" fill="#FCF6B1"/>
<rect x="316.36" y="273.73" width="4.96" height="16.41" fill="#FEC87A"/>
<rect x="320.32" y="273.73" width="4.96" height="16.41" fill="#FCF6B1"/>
<rect x="324.27" y="273.73" width="4.96" height="16.41" fill="#F4F8B1"/>
<rect x="328.23" y="273.73" width="4.96" height="16.41" fill="#FEE090"/>
<rect x="332.18" y="273.73" width="4.96" height="16.41" fill="#1C8FBE"/>
<rect x="336.14" y="273.73" width="4.96" height="16.41" fill="#54C7A2"/>
<rect x="340.10" y="273.73" width="4.96" height="16.41" fill="#1EB8A2"/>
<rect x="344.05" y="273.73" width="4.96" height="16.41" fill="#1EB8A2"/>
<rect x="348.01" y="273.73" width="4.96" height="16.41" fill="#FCF6B1"/>
<rect x="351.96" y="273.73" width="4.96" height="16.41" fill="#FCF6B1"/>
<rect x="355.92" y="273.73" width="4.96" height="16.41" fill="#54C7A2"/>
<rect x="359.88" y="273.73" width="4.96" height="16.41" fill="#1AAEA8"/>
<rect x="363.83" y="273.73" width="4.96" height="16.41" fill="#54C7A2"/>
<rect x="367.79" y="273.73" width="4.96" height="16.41" fill="#F4F8B1"/>
<rect x="371.74" y="273.73" width="4.96" height="16.41" fill="#F4F8B1"/>
<rect x="375.70" y="273.73" width="4.96" height="16.41" fill="#54C7A2"/>
<rect x="379.66" y="273.73" width="4.96" height="16.41" fill="#9ED9A1"/>
<rect x="383.61" y="273.73" width="4.96" height="16.41" fill="#F57A48"/>
<rect x="387.57" y="273.73" width="4.96" height="16.41" fill="#F4F8B1"/>
<rect x="391.52" y="273.73" width="4.96" height="16.41" fill="#FCF6B1"/>
<rect x="395.48" y="273.73" width="4.96" height="16.41" fill="#FEC87A"/>
<rect x="399.44" y="273.73" width="4.96" height="16.41" fill="#FEC87A"/>
<rect x="403.39" y="273.73" width="4.96" height="16.41" fill="#FEC87A"/>
<rect x="407.35" y="273.73" width="4.96" height="16.41" fill="#EAF5A6"/>
<rect x="411.30" y="273.73" width="4.96" height="16.41" fill="#EAF5A6"/>
<rect x="415.26" y="273.73" width="4.96" height="16.41" fill="#E1F2A4"/>
<rect x="419.22" y="273.73" width="4.96" height="16.41" fill="#2184C6"/>
<rect x="423.17" y="273.73" width="4.96" height="16.41" fill="#F4F8B1"/>
<rect x="427.13" y="273.73" width="4.96" height="16.41" fill="#9ED9A1"/>
<rect x="431.08" y="273.73" width="4.96" height="16.41" fill="#61CAA2"/>
<rect x="435.04" y="273.73" width="4.96" height="16.41" fill="#1EB8A2"/>
<rect x="439.00" y="273.73" width="4.96" height="16.41" fill="#FEC87A"/>
<rect x="442.95" y="273.73" width="4.96" height="16.41" fill="#FEE090"/>
<rect x="446.91" y="273.73" width="4.96" height="16.41" fill="#FEC87A"/>
<rect x="450.86" y="273.73" width="4.96" height="16.41" fill="#D4EDA0"/>
<rect x="454.82" y="273.73" width="4.96" height="16.41" fill="#FCF6B1"/>
<rect x="458.78" y="273.73" width="4.96" height="16.41" fill="#2184C6"/>
<rect x="462.73" y="273.73" width="4.96" height="16.41" fill="#E1F2A4"/>
<rect x="466.69" y="273.73" width="4.96" height="16.41" fill="#F4F8B1"/>
<rect x="470.64" y="273.73" width="4.96" height="16.41" fill="#FCF6B1"/>
<rect x="474.60" y="273.73" width="4.96" height="16.41" fill="#1EB8A2"/>
<rect x="478.56" y="273.73" width="4.96" height="16.41" fill="#54C7A2"/>
<rect x="482.51" y="273.73" width="4.96" height="16.41" fill="#FDBA6D"/>
<rect x="486.47" y="273.73" width="4.96" height="16.41" fill="#FDBA6D"/>
<rect x="490.42" y="273.73" width="4.96" height="16.41" fill="#FDBA6D"/>
<rect x="494.38" y="273.73" width="4.96" height="16.41" fill="#54C7A2"/>
<rect x="498.34" y="273.73" width="4.96" height="16.41" fill="#1EB8A2"/>
<rect x="502.29" y="273.73" width="4.96" height="16.41" fill="#FEE090"/>
<rect x="506.25" y="273.73" width="4.96" height="16.41" fill="#FED283"/>
<rect x="510.20" y="273.73" width="4.96" height="16.41" fill="#FED283"/>
<rect x="514.16" y="273.73" width="4.96" height="16.41" fill="#54C7A2"/>
<rect x="518.12" y="273.73" width="4.96" height="16.41" fill="#54C7A2"/>
<rect x="522.07" y="273.73" width="4.96" height="16.41" fill="#EAF5A6"/>
<rect x="526.03" y="273.73" width="4.96" height="16.41" fill="#FEC87A"/>
<rect x="529.98" y="273.73" width="4.96" height="16.41" fill="#FEC87A"/>
<rect x="533.94" y="273.73" width="4.96" height="16.41" fill="#FEE090"/>
<rect x="537.90" y="273.73" width="4.96" height="16.41" fill="#FCF4AD"/>
<rect x="541.85" y="273.73" width="3.96" height="16.41" fill="#FED283"/>
<rect x="177.90" y="289.14" width="4.96" height="15.41" fill="#EAF5A6"/>
<rect x="181.86" y="289.14" width="4.96" height="15.41" fill="#18AAAC"/>
<rect x="185.81" y="289.14" width="4.96" height="15.41" fill="#18AAAC"/>
<rect x="189.77" y="289.14" width="4.96" height="15.41" fill="#FCF6B1"/>
<rect x="193.72" y="289.14" width="4.96" height="15.41" fill="#6DCDA2"/>
<rect x="197.68" y="289.14" width="4.96" height="15.41" fill="#FEF0A6"/>
<rect x="201.64" y="289.14" width="4.96" height="15.41" fill="#FEF0A6"/>
<rect x="205.59" y="289.14" width="4.96" height="15.41" fill="#F4F8B1"/>
<rect x="209.55" y="289.14" width="4.96" height="15.41" fill="#FCA35B"/>
<rect x="213.50" y="289.14" width="4.96" height="15.41" fill="#C21D4E"/>
<rect x="217.46" y="289.14" width="4.96" height="15.41" fill="#FEC87A"/>
<rect x="221.42" y="289.14" width="4.96" height="15.41" fill="#FEC87A"/>
<rect x="225.37" y="289.14" width="4.96" height="15.41" fill="#9ED9A1"/>
<rect x="229.33" y="289.14" width="4.96" height="15.41" fill="#9ED9A1"/>
<rect x="233.28" y="289.14" width="4.96" height="15.41" fill="#FCF6B1"/>
<rect x="237.24" y="289.14" width="4.96" height="15.41" fill="#FDBA6D"/>
<rect x="241.20" y="289.14" width="4.96" height="15.41" fill="#EA4E45"/>
<rect x="245.15" y="289.14" width="4.96" height="15.41" fill="#F16644"/>
<rect x="249.11" y="289.14" width="4.96" height="15.41" fill="#FEC87A"/>
<rect x="253.06" y="289.14" width="4.96" height="15.41" fill="#EA4E45"/>
<rect x="257.02" y="289.14" width="4.96" height="15.41" fill="#EA4E45"/>
<rect x="260.98" y="289.14" width="4.96" height="15.41" fill="#FDB065"/>
<rect x="264.93" y="289.14" width="4.96" height="15.41" fill="#FEE090"/>
<rect x="268.89" y="289.14" width="4.96" height="15.41" fill="#61CAA2"/>
<rect x="272.84" y="289.14" width="4.96" height="15.41" fill="#FAFAB8"/>
<rect x="276.80" y="289.14" width="4.96" height="15.41" fill="#FEF0A6"/>
<rect x="280.76" y="289.14" width="4.96" height="15.41" fill="#FEF0A6"/>
<rect x="284.71" y="289.14" width="4.96" height="15.41" fill="#FEC87A"/>
<rect x="288.67" y="289.14" width="4.96" height="15.41" fill="#FCF6B1"/>
<rect x="292.62" y="289.14" width="4.96" height="15.41" fill="#FDB065"/>
<rect x="296.58" y="289.14" width="4.96" height="15.41" fill="#FDB065"/>
<rect x="300.54" y="289.14" width="4.96" height="15.41" fill="#4F62B0"/>
<rect x="304.49" y="289.14" width="4.96" height="15.41" fill="#5458AC"/>
<rect x="308.45" y="289.14" width="4.96" height="15.41" fill="#4F62B0"/>
<rect x="312.40" y="289.14" width="4.96" height="15.41" fill="#5458AC"/>
<rect x="316.36" y="289.14" width="4.96" height="15.41" fill="#2184C6"/>
<rect x="320.32" y="289.14" width="4.96" height="15.41" fill="#4F62B0"/>
<rect x="324.27" y="289.14" width="4.96" height="15.41" fill="#1EB8A2"/>
<rect x="328.23" y="289.14" width="4.96" height="15.41" fill="#F4F8B1"/>
<rect x="332.18" y="289.14" width="4.96" height="15.41" fill="#FEE699"/>
<rect x="336.14" y="289.14" width="4.96" height="15.41" fill="#54C7A2"/>
<rect x="340.10" y="289.14" width="4.96" height="15.41" fill="#1EB8A2"/>
<rect x="344.05" y="289.14" width="4.96" height="15.41" fill="#2184C6"/>
<rect x="348.01" y="289.14" width="4.96" height="15.41" fill="#2184C6"/>
<rect x="351.96" y="289.14" width="4.96" height="15.41" fill="#1EB8A2"/>
<rect x="355.92" y="289.14" width="4.96" height="15.41" fill="#FEE699"/>
<rect x="359.88" y="289.14" width="4.96" height="15.41" fill="#FCF6B1"/>
<rect x="363.83" y="289.14" width="4.96" height="15.41" fill="#54C7A2"/>
<rect x="367.79" y="289.14" width="4.96" height="15.41" fill="#FEF0A6"/>
<rect x="371.74" y="289.14" width="4.96" height="15.41" fill="#D4EDA0"/>
<rect x="375.70" y="289.14" width="4.96" height="15.41" fill="#54C7A2"/>
<rect x="379.66" y="289.14" width="4.96" height="15.41" fill="#1EB8A2"/>
<rect x="383.61" y="289.14" width="4.96" height="15.41" fill="#1EB8A2"/>
<rect x="387.57" y="289.14" width="4.96" height="15.41" fill="#FEE699"/>
<rect x="391.52" y="289.14" width="4.96" height="15.41" fill="#1EB8A2"/>
<rect x="395.48" y="289.14" width="4.96" height="15.41" fill="#54C7A2"/>
<rect x="399.44" y="289.14" width="4.96" height="15.41" fill="#9ED9A1"/>
<rect x="403.39" y="289.14" width="4.96" height="15.41" fill="#5458AC"/>
<rect x="407.35" y="289.14" width="4.96" height="15.41" fill="#4669B4"/>
<rect x="411.30" y="289.14" width="4.96" height="15.41" fill="#5458AC"/>
<rect x="415.26" y="289.14" width="4.96" height="15.41" fill="#5458AC"/>
<rect x="419.22" y="289.14" width="4.96" height="15.41" fill="#FEF0A6"/>
<rect x="423.17" y="289.14" width="4.96" height="15.41" fill="#E1F2A4"/>
<rect x="427.13" y="289.14" width="4.96" height="15.41" fill="#FEF0A6"/>
<rect x="431.08" y="289.14" width="4.96" height="15.41" fill="#EAF5A6"/>
<rect x="435.04" y="289.14" width="4.96" height="15.41" fill="#FCA35B"/>
<rect x="439.00" y="289.14" width="4.96" height="15.41" fill="#9ED9A1"/>
<rect x="442.95" y="289.14" width="4.96" height="15.41" fill="#FCF4AD"/>
<rect x="446.91" y="289.14" width="4.96" height="15.41" fill="#FDB065"/>
<rect x="450.86" y="289.14" width="4.96" height="15.41" fill="#FEE699"/>
<rect x="454.82" y="289.14" width="4.96" height="15.41" fill="#1AAEA8"/>
<rect x="458.78" y="289.14" width="4.96" height="15.41" fill="#2184C6"/>
<rect x="462.73" y="289.14" width="4.96" height="15.41" fill="#9ED9A1"/>
<rect x="466.69" y="289.14" width="4.96" height="15.41" fill="#F57A48"/>
<rect x="470.64" y="289.14" width="4.96" height="15.41" fill="#9ED9A1"/>
<rect x="474.60" y="289.14" width="4.96" height="15.41" fill="#1EB8A2"/>
<rect x="478.56" y="289.14" width="4.96" height="15.41" fill="#54C7A2"/>
<rect x="482.51" y="289.14" width="4.96" height="15.41" fill="#1EB8A2"/>
<rect x="486.47" y="289.14" width="4.96" height="15.41" fill="#54C7A2"/>
<rect x="490.42" y="289.14" width="4.96" height="15.41" fill="#1EB8A2"/>
<rect x="494.38" y="289.14" width="4.96" height="15.41" fill="#54C7A2"/>
<rect x="498.34" y="289.14" width="4.96" height="15.41" fill="#1EB8A2"/>
<rect x="502.29" y="289.14" width="4.96" height="15.41" fill="#2184C6"/>
<rect x="506.25" y="289.14" width="4.96" height="15.41" fill="#5458AC"/>
<rect x="510.20" y="289.14" width="4.96" height="15.41" fill="#5458AC"/>
<rect x="514.16" y="289.14" width="4.96" height="15.41" fill="#F57A48"/>
<rect x="518.12" y="289.14" width="4.96" height="15.41" fill="#54C7A2"/>
<rect x="522.07" y="289.14" width="4.96" height="15.41" fill="#EAF5A6"/>
<rect x="526.03" y="289.14" width="4.96" height="15.41" fill="#FCA35B"/>
<rect x="529.98" y="289.14" width="4.96" height="15.41" fill="#F4F8B1"/>
<rect x="533.94" y="289.14" width="4.96" height="15.41" fill="#54C7A2"/>
<rect x="537.90" y="289.14" width="4.96" height="15.41" fill="#54C7A2"/>
<rect x="541.85" y="289.14" width="3.96" height="15.41" fill="#9ED9A1"/>
</g>
<rect x="177.90" y="63.90" width="4.96" height="5.50" fill="#00A01E"/>
<rect x="181.86" y="63.90" width="4.96" height="5.50" fill="#00A01E"/>
<rect x="185.81" y="63.90" width="4.96" height="5.50" fill="#00A01E"/>
<rect x="189.77" y="63.90" width="4.96" height="5.50" fill="#FF0A0A"/>
<rect x="193.72" y="63.90" width="4.96" height="5.50" fill="#00A01E"/>
<rect x="197.68" y="63.90" width="4.96" height="5.50" fill="#00A01E"/>
<rect x="201.64" y="63.90" width="4.96" height="5.50" fill="#1787D2"/>
<rect x="205.59" y="63.90" width="4.96" height="5.50" fill="#00A01E"/>
<rect x="209.55" y="63.90" width="4.96" height="5.50" fill="#00A01E"/>
<rect x="213.50" y="63.90" width="4.96" height="5.50" fill="#00A01E"/>
<rect x="217.46" y="63.90" width="4.96" height="5.50" fill="#00A01E"/>
<rect x="221.42" y="63.90" width="4.96" height="5.50" fill="#00A01E"/>
<rect x="225.37" y="63.90" width="4.96" height="5.50" fill="#00A01E"/>
<rect x="229.33" y="63.90" width="4.96" height="5.50" fill="#00A01E"/>
<rect x="233.28" y="63.90" width="4.96" height="5.50" fill="#00A01E"/>
<rect x="237.24" y="63.90" width="4.96" height="5.50" fill="#00A01E"/>
<rect x="241.20" y="63.90" width="4.96" height="5.50" fill="#00A01E"/>
<rect x="245.15" y="63.90" width="4.96" height="5.50" fill="#00A01E"/>
<rect x="249.11" y="63.90" width="4.96" height="5.50" fill="#00A01E"/>
<rect x="253.06" y="63.90" width="4.96" height="5.50" fill="#00A01E"/>
<rect x="257.02" y="63.90" width="4.96" height="5.50" fill="#00A01E"/>
<rect x="260.98" y="63.90" width="4.96" height="5.50" fill="#00A01E"/>
<rect x="264.93" y="63.90" width="4.96" height="5.50" fill="#00A01E"/>
<rect x="268.89" y="63.90" width="4.96" height="5.50" fill="#1787D2"/>
<rect x="272.84" y="63.90" width="4.96" height="5.50" fill="#00A01E"/>
<rect x="276.80" y="63.90" width="4.96" height="5.50" fill="#1787D2"/>
<rect x="280.76" y="63.90" width="4.96" height="5.50" fill="#1787D2"/>
<rect x="284.71" y="63.90" width="4.96" height="5.50" fill="#1787D2"/>
<rect x="288.67" y="63.90" width="4.96" height="5.50" fill="#00A01E"/>
<rect x="292.62" y="63.90" width="4.96" height="5.50" fill="#00A01E"/>
<rect x="296.58" y="63.90" width="4.96" height="5.50" fill="#00A01E"/>
<rect x="300.54" y="63.90" width="4.96" height="5.50" fill="#1787D2"/>
<rect x="304.49" y="63.90" width="4.96" height="5.50" fill="#00A01E"/>
<rect x="308.45" y="63.90" width="4.96" height="5.50" fill="#00A01E"/>
<rect x="312.40" y="63.90" width="4.96" height="5.50" fill="#00A01E"/>
<rect x="316.36" y="63.90" width="4.96" height="5.50" fill="#00A01E"/>
<rect x="320.32" y="63.90" width="4.96" height="5.50" fill="#00A01E"/>
<rect x="324.27" y="63.90" width="4.96" height="5.50" fill="#00A01E"/>
<rect x="328.23" y="63.90" width="4.96" height="5.50" fill="#1787D2"/>
<rect x="332.18" y="63.90" width="4.96" height="5.50" fill="#1787D2"/>
<rect x="336.14" y="63.90" width="4.96" height="5.50" fill="#1787D2"/>
<rect x="340.10" y="63.90" width="4.96" height="5.50" fill="#1787D2"/>
<rect x="344.05" y="63.90" width="4.96" height="5.50" fill="#1787D2"/>
<rect x="348.01" y="63.90" width="4.96" height="5.50" fill="#1787D2"/>
<rect x="351.96" y="63.90" width="4.96" height="5.50" fill="#1787D2"/>
<rect x="355.92" y="63.90" width="4.96" height="5.50" fill="#1787D2"/>
<rect x="359.88" y="63.90" width="4.96" height="5.50" fill="#1787D2"/>
<rect x="363.83" y="63.90" width="4.96" height="5.50" fill="#FF0A0A"/>
<rect x="367.79" y="63.90" width="4.96" height="5.50" fill="#FF0A0A"/>
<rect x="371.74" y="63.90" width="4.96" height="5.50" fill="#1787D2"/>
<rect x="375.70" y="63.90" width="4.96" height="5.50" fill="#FF0A0A"/>
<rect x="379.66" y="63.90" width="4.96" height="5.50" fill="#1787D2"/>
<rect x="383.61" y="63.90" width="4.96" height="5.50" fill="#00A01E"/>
<rect x="387.57" y="63.90" width="4.96" height="5.50" fill="#FF0A0A"/>
<rect x="391.52" y="63.90" width="4.96" height="5.50" fill="#00A01E"/>
<rect x="395.48" y="63.90" width="4.96" height="5.50" fill="#00A01E"/>
<rect x="399.44" y="63.90" width="4.96" height="5.50" fill="#00A01E"/>
<rect x="403.39" y="63.90" width="4.96" height="5.50" fill="#FF0A0A"/>
<rect x="407.35" y="63.90" width="4.96" height="5.50" fill="#00A01E"/>
<rect x="411.30" y="63.90" width="4.96" height="5.50" fill="#00A01E"/>
<rect x="415.26" y="63.90" width="4.96" height="5.50" fill="#00A01E"/>
<rect x="419.22" y="63.90" width="4.96" height="5.50" fill="#FF0A0A"/>
<rect x="423.17" y="63.90" width="4.96" height="5.50" fill="#00A01E"/>
<rect x="427.13" y="63.90" width="4.96" height="5.50" fill="#00A01E"/>
<rect x="431.08" y="63.90" width="4.96" height="5.50" fill="#00A01E"/>
<rect x="435.04" y="63.90" width="4.96" height="5.50" fill="#00A01E"/>
<rect x="439.00" y="63.90" width="4.96" height="5.50" fill="#1787D2"/>
<rect x="442.95" y="63.90" width="4.96" height="5.50" fill="#FF0A0A"/>
<rect x="446.91" y="63.90" width="4.96" height="5.50" fill="#1787D2"/>
<rect x="450.86" y="63.90" width="4.96" height="5.50" fill="#FF0A0A"/>
<rect x="454.82" y="63.90" width="4.96" height="5.50" fill="#FF0A0A"/>
<rect x="458.78" y="63.90" width="4.96" height="5.50" fill="#FF0A0A"/>
<rect x="462.73" y="63.90" width="4.96" height="5.50" fill="#FF0A0A"/>
<rect x="466.69" y="63.90" width="4.96" height="5.50" fill="#FF0A0A"/>
<rect x="470.64" y="63.90" width="4.96" height="5.50" fill="#00A01E"/>
<rect x="474.60" y="63.90" width="4.96" height="5.50" fill="#FF0A0A"/>
<rect x="478.56" y="63.90" width="4.96" height="5.50" fill="#FF0A0A"/>
<rect x="482.51" y="63.90" width="4.96" height="5.50" fill="#FF0A0A"/>
<rect x="486.47" y="63.90" width="4.96" height="5.50" fill="#FF0A0A"/>
<rect x="490.42" y="63.90" width="4.96" height="5.50" fill="#FF0A0A"/>
<rect x="494.38" y="63.90" width="4.96" height="5.50" fill="#FF0A0A"/>
<rect x="498.34" y="63.90" width="4.96" height="5.50" fill="#FF0A0A"/>
<rect x="502.29" y="63.90" width="4.96" height="5.50" fill="#FF0A0A"/>
<rect x="506.25" y="63.90" width="4.96" height="5.50" fill="#FF0A0A"/>
<rect x="510.20" y="63.90" width="4.96" height="5.50" fill="#FF0A0A"/>
<rect x="514.16" y="63.90" width="4.96" height="5.50" fill="#FF0A0A"/>
<rect x="518.12" y="63.90" width="4.96" height="5.50" fill="#FF0A0A"/>
<rect x="522.07" y="63.90" width="4.96" height="5.50" fill="#1787D2"/>
<rect x="526.03" y="63.90" width="4.96" height="5.50" fill="#FF0A0A"/>
<rect x="529.98" y="63.90" width="4.96" height="5.50" fill="#1787D2"/>
<rect x="533.94" y="63.90" width="4.96" height="5.50" fill="#FF0A0A"/>
<rect x="537.90" y="63.90" width="4.96" height="5.50" fill="#00A01E"/>
<rect x="541.85" y="63.90" width="3.96" height="5.50" fill="#00A01E"/>
<rect x="158.10" y="73.40" width="14.70" height="16.41" fill="#1787D2"/>
<rect x="158.10" y="88.81" width="14.70" height="16.41" fill="#1787D2"/>
<rect x="158.10" y="104.22" width="14.70" height="16.41" fill="#1787D2"/>
<rect x="158.10" y="119.63" width="14.70" height="16.41" fill="#FF8C1A"/>
<rect x="158.10" y="135.04" width="14.70" height="16.41" fill="#FF8C1A"/>
<rect x="158.10" y="150.45" width="14.70" height="16.41" fill="#FF8C1A"/>
<rect x="158.10" y="165.86" width="14.70" height="16.41" fill="#FF8C1A"/>
<rect x="158.10" y="181.27" width="14.70" height="16.41" fill="#FF8C1A"/>
<rect x="158.10" y="196.68" width="14.70" height="16.41" fill="#FF8C1A"/>
<rect x="158.10" y="212.09" width="14.70" height="16.41" fill="#FF8C1A"/>
<rect x="158.10" y="227.50" width="14.70" height="16.41" fill="#1787D2"/>
<rect x="158.10" y="242.91" width="14.70" height="16.41" fill="#1787D2"/>
<rect x="158.10" y="258.32" width="14.70" height="16.41" fill="#1787D2"/>
<rect x="158.10" y="273.73" width="14.70" height="16.41" fill="#1787D2"/>
<rect x="158.10" y="289.14" width="14.70" height="15.41" fill="#1787D2"/>
<path d="M243.5 12.2V4.3H403.3V12.3M212.0 25.1V12.2H274.9V24.7M197.2 25.7V25.1H226.9V29.5M188.3 31.2V25.7H206.1V31.8M182.8 37.8V31.2H193.7V43.1M179.9 62.0V37.8H185.8V61.7M183.8 62.0V61.7H187.8V62.0M191.7 62.0V43.1H195.7V62.0M201.6 37.2V31.8H210.5V40.1M199.7 62.0V37.2H203.6V62.0M207.6 62.0V40.1H213.5V43.7M211.5 62.0V43.7H215.5V62.0M221.4 41.3V29.5H232.3V35.4M219.4 62.0V41.3H223.4V62.0M229.3 58.5V35.4H235.3V62.0M227.4 62.0V58.5H231.3V62.0M261.2 25.3V24.7H288.7V31.2M252.6 33.0V25.3H269.9V32.4M245.2 48.0V33.0H260.0V37.8M241.2 48.6V48.0H249.1V51.4M239.2 62.0V48.6H243.2V62.0M247.1 62.0V51.4H251.1V62.0M257.0 44.3V37.8H263.0V62.0M255.0 62.0V44.3H259.0V62.0M266.9 62.0V32.4H272.8V37.8M270.9 62.0V37.8H274.8V62.0M283.7 41.3V31.2H293.6V37.8M280.8 43.1V41.3H286.7V62.0M278.8 62.0V43.1H282.7V62.0M290.6 62.0V37.8H296.6V41.9M294.6 62.0V41.9H298.6V62.0M356.0 24.5V12.3H450.7V14.6M329.8 27.7V24.5H382.2V26.2M317.2 34.2V27.7H342.3V32.4M312.2 36.0V34.2H322.3V62.0M306.0 41.3V36.0H318.3V62.0M302.5 62.0V41.3H309.4V41.9M306.5 62.0V41.9H312.4V51.4M310.4 62.0V51.4H314.4V62.0M335.6 34.2V32.4H349.0V38.9M331.2 40.7V34.2H340.1V50.2M328.2 44.3V40.7H334.2V62.0M326.2 62.0V44.3H330.2V62.0M338.1 62.0V50.2H342.1V62.0M346.0 62.0V38.9H352.0V43.7M350.0 62.0V43.7H353.9V62.0M369.3 29.5V26.2H395.1V34.2M362.8 37.8V29.5H375.7V37.8M359.9 42.5V37.8H365.8V62.0M357.9 62.0V42.5H361.9V62.0M371.7 42.5V37.8H379.7V44.5M369.8 62.0V42.5H373.7V62.0M377.7 62.0V44.5H381.6V62.0M387.6 37.8V34.2H402.7V37.8M385.6 62.0V37.8H389.5V62.0M396.5 52.0V37.8H408.8V40.7M393.5 62.0V52.0H399.4V61.4M397.5 62.0V61.4H401.4V62.0M405.4 62.0V40.7H412.3V49.0M409.3 62.0V49.0H415.3V53.7M413.3 62.0V53.7H417.2V62.0M428.6 24.7V14.6H472.7V19.2M421.2 62.0V24.7H436.0V31.2M430.1 41.9V31.2H442.0V33.0M427.1 52.0V41.9H433.1V62.0M425.1 62.0V52.0H429.1V62.0M437.0 62.0V33.0H446.9V36.0M443.0 41.9V36.0H450.9V48.4M441.0 62.0V41.9H444.9V62.0M448.9 62.0V48.4H452.8V62.0M458.8 36.5V19.2H486.6V21.4M456.8 62.0V36.5H460.8V62.0M466.7 34.7V21.4H506.6V23.1M464.7 62.0V34.7H468.7V62.0M485.4 26.4V23.1H527.8V32.5M475.6 37.5V26.4H495.1V29.7M472.6 62.0V37.5H478.6V47.8M476.6 62.0V47.8H480.5V62.0M487.5 38.3V29.7H502.8V33.5M484.5 62.0V38.3H490.4V47.8M488.4 62.0V47.8H492.4V62.0M498.3 41.5V33.5H507.2V41.3M496.4 62.0V41.5H500.3V62.0M504.3 62.0V41.3H510.2V49.0M508.2 62.0V49.0H512.2V62.0M519.1 36.2V32.5H536.4V34.3M516.1 62.0V36.2H522.1V43.6M520.1 62.0V43.6H524.0V62.0M531.0 38.3V34.3H541.9V42.6M528.0 62.0V38.3H533.9V43.6M532.0 62.0V43.6H535.9V62.0M539.9 62.0V42.6H543.8V62.0" fill="none" stroke="#474747" stroke-width="1.2"/>
<path d="M68.9 146.6H32.2V241.9H57.7M92.0 113.9H68.9V179.3H87.2M100.6 100.4H92.0V127.3H153.6M105.5 88.8H100.6V111.9H153.6M153.6 81.1H105.5V96.5H153.6M91.2 162.0H87.2V196.7H88.5M103.3 150.4H91.2V173.6H153.6M153.6 142.7H103.3V158.2H153.6M153.6 189.0H88.5V204.4H153.6M153.6 219.8H57.7V264.1H81.1M91.6 242.9H81.1V285.3H88.1M153.6 235.2H91.6V250.6H153.6M100.4 273.7H88.1V296.8H153.6M153.6 266.0H100.4V281.4H153.6" fill="none" stroke="#474747" stroke-width="1.2"/>
<defs><linearGradient id="kg" x1="0" x2="1" y1="0" y2="0">
<stop offset="0.0000" stop-color="#5556AB"/><stop offset="0.0500" stop-color="#5556AB"/>
<stop offset="0.0500" stop-color="#3873BB"/><stop offset="0.1000" stop-color="#3873BB"/>
<stop offset="0.1000" stop-color="#1A92BC"/><stop offset="0.1500" stop-color="#1A92BC"/>
<stop offset="0.1500" stop-color="#19ACAA"/><stop offset="0.2000" stop-color="#19ACAA"/>
<stop offset="0.2000" stop-color="#33BEA2"/><stop offset="0.2500" stop-color="#33BEA2"/>
<stop offset="0.2500" stop-color="#67CCA2"/><stop offset="0.3000" stop-color="#67CCA2"/>
<stop offset="0.3000" stop-color="#9AD8A1"/><stop offset="0.3500" stop-color="#9AD8A1"/>
<stop offset="0.3500" stop-color="#C1E5A0"/><stop offset="0.4000" stop-color="#C1E5A0"/>
<stop offset="0.4000" stop-color="#DFF1A3"/><stop offset="0.4500" stop-color="#DFF1A3"/>
<stop offset="0.4500" stop-color="#F2F8AF"/><stop offset="0.5000" stop-color="#F2F8AF"/>
<stop offset="0.5000" stop-color="#FCF5AF"/><stop offset="0.5500" stop-color="#FCF5AF"/>
<stop offset="0.5500" stop-color="#FEE89B"/><stop offset="0.6000" stop-color="#FEE89B"/>
<stop offset="0.6000" stop-color="#FED485"/><stop offset="0.6500" stop-color="#FED485"/>
<stop offset="0.6500" stop-color="#FEBC70"/><stop offset="0.7000" stop-color="#FEBC70"/>
<stop offset="0.7000" stop-color="#FCA55D"/><stop offset="0.7500" stop-color="#FCA55D"/>
<stop offset="0.7500" stop-color="#F88A4E"/><stop offset="0.8000" stop-color="#F88A4E"/>
<stop offset="0.8000" stop-color="#F26945"/><stop offset="0.8500" stop-color="#F26945"/>
<stop offset="0.8500" stop-color="#E84B46"/><stop offset="0.9000" stop-color="#E84B46"/>
<stop offset="0.9000" stop-color="#D5304D"/><stop offset="0.9500" stop-color="#D5304D"/>
<stop offset="0.9500" stop-color="#B8164B"/><stop offset="1.0000" stop-color="#B8164B"/>
</linearGradient></defs>
<rect x="48.20" y="18.40" width="99.90" height="5.40" fill="url(#kg)" stroke="#333" stroke-width="0.8"/>
<line x1="48.20" y1="23.80" x2="48.20" y2="27.3" stroke="#333" stroke-width="1.0"/>
<text transform="translate(48.20 38.3) scale(1.22 1)" font-size="7" text-anchor="middle" fill="#000" stroke="#000" stroke-width="0.12">-2</text>
<line x1="73.17" y1="23.80" x2="73.17" y2="27.3" stroke="#333" stroke-width="1.0"/>
<text transform="translate(73.17 38.3) scale(1.22 1)" font-size="7" text-anchor="middle" fill="#000" stroke="#000" stroke-width="0.12">-1</text>
<line x1="98.15" y1="23.80" x2="98.15" y2="27.3" stroke="#333" stroke-width="1.0"/>
<text transform="translate(98.15 38.3) scale(1.22 1)" font-size="7" text-anchor="middle" fill="#000" stroke="#000" stroke-width="0.12">0</text>
<line x1="123.12" y1="23.80" x2="123.12" y2="27.3" stroke="#333" stroke-width="1.0"/>
<text transform="translate(123.12 38.3) scale(1.22 1)" font-size="7" text-anchor="middle" fill="#000" stroke="#000" stroke-width="0.12">1</text>
<line x1="148.10" y1="23.80" x2="148.10" y2="27.3" stroke="#333" stroke-width="1.0"/>
<text transform="translate(148.10 38.3) scale(1.22 1)" font-size="7" text-anchor="middle" fill="#000" stroke="#000" stroke-width="0.12">2</text>
<text transform="translate(98.2 12.9) scale(1.22 1)" font-size="7" text-anchor="middle" fill="#000" stroke="#000" stroke-width="0.12">Color key</text>
<text transform="translate(15.00 47.70) scale(1.26 1)" font-size="7" font-weight="bold" fill="#000" stroke="#000" stroke-width="0.1">Rows</text>
<ellipse cx="6.3" cy="53.9" rx="2.3" ry="2.1" fill="#1787D2"/>
<text transform="translate(15.00 56.20) scale(1.26 1)" font-size="7" fill="#000" stroke="#000" stroke-width="0.1">High</text>
<ellipse cx="6.3" cy="62.5" rx="2.3" ry="2.1" fill="#FF8C1A"/>
<text transform="translate(15.00 65.00) scale(1.26 1)" font-size="7" fill="#000" stroke="#000" stroke-width="0.1">Low</text>
<text transform="translate(15.00 82.70) scale(1.26 1)" font-size="7" font-weight="bold" fill="#000" stroke="#000" stroke-width="0.1">Columns</text>
<ellipse cx="6.4" cy="88.8" rx="2.3" ry="2.1" fill="#1787D2"/>
<text transform="translate(15.00 91.50) scale(1.26 1)" font-size="7" fill="#000" stroke="#000" stroke-width="0.1">mRNA</text>
<ellipse cx="6.4" cy="97.3" rx="2.3" ry="2.1" fill="#00A01E"/>
<text transform="translate(15.00 100.20) scale(1.26 1)" font-size="7" fill="#000" stroke="#000" stroke-width="0.1">miRNA</text>
<ellipse cx="6.4" cy="105.7" rx="2.3" ry="2.1" fill="#FF0A0A"/>
<text transform="translate(15.00 108.60) scale(1.26 1)" font-size="7" fill="#000" stroke="#000" stroke-width="0.1">microbiome</text>
<text transform="translate(181.58 308.3) rotate(-90) scale(1 1.28)" font-size="5.0" text-anchor="end" fill="#111">Novel_2_46529</text>
<text transform="translate(189.49 308.3) rotate(-90) scale(1 1.28)" font-size="5.0" text-anchor="end" fill="#111">miR.223</text>
<text transform="translate(197.40 308.3) rotate(-90) scale(1 1.28)" font-size="5.0" text-anchor="end" fill="#111">Novel_10_31198</text>
<text transform="translate(205.31 308.3) rotate(-90) scale(1 1.28)" font-size="5.0" text-anchor="end" fill="#111">UTP18</text>
<text transform="translate(213.23 308.3) rotate(-90) scale(1 1.28)" font-size="5.0" text-anchor="end" fill="#111">miR.21.5p</text>
<text transform="translate(221.14 308.3) rotate(-90) scale(1 1.28)" font-size="5.0" text-anchor="end" fill="#111">Novel_14_35505</text>
<text transform="translate(229.05 308.3) rotate(-90) scale(1 1.28)" font-size="5.0" text-anchor="end" fill="#111">miR.1329.5p</text>
<text transform="translate(236.96 308.3) rotate(-90) scale(1 1.28)" font-size="5.0" text-anchor="end" fill="#111">miR.148b.3p</text>
<text transform="translate(244.87 308.3) rotate(-90) scale(1 1.28)" font-size="5.0" text-anchor="end" fill="#111">miR.148a.3p</text>
<text transform="translate(252.79 308.3) rotate(-90) scale(1 1.28)" font-size="5.0" text-anchor="end" fill="#111">miR.142.5p</text>
<text transform="translate(260.70 308.3) rotate(-90) scale(1 1.28)" font-size="5.0" text-anchor="end" fill="#111">Novel_22_40967</text>
<text transform="translate(268.61 308.3) rotate(-90) scale(1 1.28)" font-size="5.0" text-anchor="end" fill="#111">miR.1388a.5p</text>
<text transform="translate(276.52 308.3) rotate(-90) scale(1 1.28)" font-size="5.0" text-anchor="end" fill="#111">miR.126.3p</text>
<text transform="translate(284.43 308.3) rotate(-90) scale(1 1.28)" font-size="5.0" text-anchor="end" fill="#111">LOC107232342</text>
<text transform="translate(292.35 308.3) rotate(-90) scale(1 1.28)" font-size="5.0" text-anchor="end" fill="#111">miR.2184b.3p</text>
<text transform="translate(300.26 308.3) rotate(-90) scale(1 1.28)" font-size="5.0" text-anchor="end" fill="#111">Novel_2_9160</text>
<text transform="translate(308.17 308.3) rotate(-90) scale(1 1.28)" font-size="5.0" text-anchor="end" fill="#111">L_NW_015438531.1_21380</text>
<text transform="translate(316.08 308.3) rotate(-90) scale(1 1.28)" font-size="5.0" text-anchor="end" fill="#111">miR.190a.3p</text>
<text transform="translate(323.99 308.3) rotate(-90) scale(1 1.28)" font-size="5.0" text-anchor="end" fill="#111">miR.146b.5p</text>
<text transform="translate(331.91 308.3) rotate(-90) scale(1 1.28)" font-size="5.0" text-anchor="end" fill="#111">ME2</text>
<text transform="translate(339.82 308.3) rotate(-90) scale(1 1.28)" font-size="5.0" text-anchor="end" fill="#111">LOC107315919</text>
<text transform="translate(347.73 308.3) rotate(-90) scale(1 1.28)" font-size="5.0" text-anchor="end" fill="#111">TSEN2</text>
<text transform="translate(355.64 308.3) rotate(-90) scale(1 1.28)" font-size="5.0" text-anchor="end" fill="#111">BOC</text>
<text transform="translate(363.55 308.3) rotate(-90) scale(1 1.28)" font-size="5.0" text-anchor="end" fill="#111">IGSF10</text>
<text transform="translate(371.47 308.3) rotate(-90) scale(1 1.28)" font-size="5.0" text-anchor="end" fill="#111">Bacteroides</text>
<text transform="translate(379.38 308.3) rotate(-90) scale(1 1.28)" font-size="5.0" text-anchor="end" fill="#111">Butyricicoccus</text>
<text transform="translate(387.29 308.3) rotate(-90) scale(1 1.28)" font-size="5.0" text-anchor="end" fill="#111">miR.130b.5p</text>
<text transform="translate(395.20 308.3) rotate(-90) scale(1 1.28)" font-size="5.0" text-anchor="end" fill="#111">miR.23a.3p</text>
<text transform="translate(403.11 308.3) rotate(-90) scale(1 1.28)" font-size="5.0" text-anchor="end" fill="#111">let.7k.3p</text>
<text transform="translate(411.03 308.3) rotate(-90) scale(1 1.28)" font-size="5.0" text-anchor="end" fill="#111">let.7j.3p</text>
<text transform="translate(418.94 308.3) rotate(-90) scale(1 1.28)" font-size="5.0" text-anchor="end" fill="#111">Novel_1_3789</text>
<text transform="translate(426.85 308.3) rotate(-90) scale(1 1.28)" font-size="5.0" text-anchor="end" fill="#111">miR.122.3p</text>
<text transform="translate(434.76 308.3) rotate(-90) scale(1 1.28)" font-size="5.0" text-anchor="end" fill="#111">Novel_4_17603</text>
<text transform="translate(442.67 308.3) rotate(-90) scale(1 1.28)" font-size="5.0" text-anchor="end" fill="#111">EPHB1</text>
<text transform="translate(450.59 308.3) rotate(-90) scale(1 1.28)" font-size="5.0" text-anchor="end" fill="#111">COL23A1</text>
<text transform="translate(458.50 308.3) rotate(-90) scale(1 1.28)" font-size="5.0" text-anchor="end" fill="#111">Ureibacillus</text>
<text transform="translate(466.41 308.3) rotate(-90) scale(1 1.28)" font-size="5.0" text-anchor="end" fill="#111">Candidatus Arthromitus</text>
<text transform="translate(474.32 308.3) rotate(-90) scale(1 1.28)" font-size="5.0" text-anchor="end" fill="#111">miR.101.1.5p</text>
<text transform="translate(482.23 308.3) rotate(-90) scale(1 1.28)" font-size="5.0" text-anchor="end" fill="#111">Saccharopolyspora</text>
<text transform="translate(490.15 308.3) rotate(-90) scale(1 1.28)" font-size="5.0" text-anchor="end" fill="#111">Sporosarcina</text>
<text transform="translate(498.06 308.3) rotate(-90) scale(1 1.28)" font-size="5.0" text-anchor="end" fill="#111">Microlunatus</text>
<text transform="translate(505.97 308.3) rotate(-90) scale(1 1.28)" font-size="5.0" text-anchor="end" fill="#111">Anaerostipes</text>
<text transform="translate(513.88 308.3) rotate(-90) scale(1 1.28)" font-size="5.0" text-anchor="end" fill="#111">Lactococcus</text>
<text transform="translate(521.79 308.3) rotate(-90) scale(1 1.28)" font-size="5.0" text-anchor="end" fill="#111">Lachnoclostridium</text>
<text transform="translate(529.71 308.3) rotate(-90) scale(1 1.28)" font-size="5.0" text-anchor="end" fill="#111">Subdoligranulum</text>
<text transform="translate(537.62 308.3) rotate(-90) scale(1 1.28)" font-size="5.0" text-anchor="end" fill="#111">Roseburia</text>
<text transform="translate(545.53 308.3) rotate(-90) scale(1 1.28)" font-size="5.0" text-anchor="end" fill="#111">miR.99a.3p</text>
</svg></body></html>
